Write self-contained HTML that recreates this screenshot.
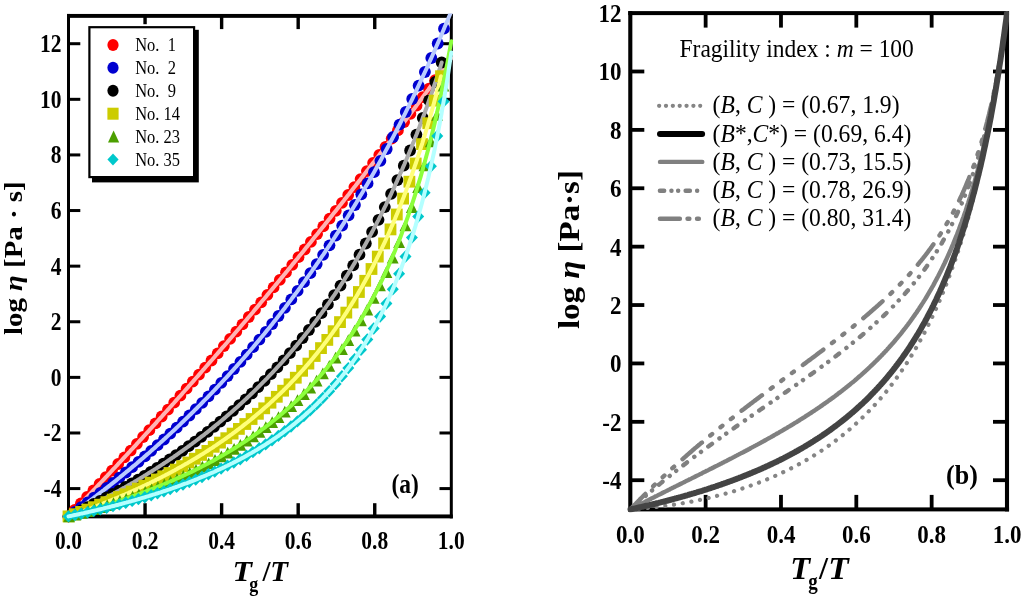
<!DOCTYPE html>
<html lang="en"><head><meta charset="utf-8"><title>Viscosity plots</title>
<style>html,body{margin:0;padding:0;background:#fff}body{width:1024px;height:598px;overflow:hidden}svg{display:block}</style>
</head><body>
<svg width="1024" height="598" viewBox="0 0 1024 598" font-family='"Liberation Serif", "DejaVu Serif", serif'>
<rect width="1024" height="598" fill="#fff"/>
<defs><clipPath id="ca"><rect x="60.5" y="13.4" width="392.8" height="511.0"/></clipPath><clipPath id="cb"><rect x="627.3" y="11.6" width="381.70000000000005" height="500.79999999999995"/></clipPath></defs>
<g fill="#000">
<rect x="67.00" y="13.95" width="385.80" height="3.9"/>
<rect x="67.00" y="514.45" width="385.80" height="3.9"/>
<rect x="67.00" y="13.95" width="3.0" height="504.40"/>
<rect x="449.80" y="13.95" width="3.0" height="504.40"/>
<rect x="143.36" y="15.9" width="3.4" height="13.2"/><rect x="143.36" y="503.20" width="3.4" height="13.2"/>
<rect x="219.92" y="15.9" width="3.4" height="13.2"/><rect x="219.92" y="503.20" width="3.4" height="13.2"/>
<rect x="296.48" y="15.9" width="3.4" height="13.2"/><rect x="296.48" y="503.20" width="3.4" height="13.2"/>
<rect x="373.04" y="15.9" width="3.4" height="13.2"/><rect x="373.04" y="503.20" width="3.4" height="13.2"/>
<rect x="68.5" y="487.09" width="11.8" height="3.0"/><rect x="439.50" y="487.09" width="11.8" height="3.0"/>
<rect x="68.5" y="431.48" width="11.8" height="3.0"/><rect x="439.50" y="431.48" width="11.8" height="3.0"/>
<rect x="68.5" y="375.87" width="11.8" height="3.0"/><rect x="439.50" y="375.87" width="11.8" height="3.0"/>
<rect x="68.5" y="320.26" width="11.8" height="3.0"/><rect x="439.50" y="320.26" width="11.8" height="3.0"/>
<rect x="68.5" y="264.65" width="11.8" height="3.0"/><rect x="439.50" y="264.65" width="11.8" height="3.0"/>
<rect x="68.5" y="209.04" width="11.8" height="3.0"/><rect x="439.50" y="209.04" width="11.8" height="3.0"/>
<rect x="68.5" y="153.43" width="11.8" height="3.0"/><rect x="439.50" y="153.43" width="11.8" height="3.0"/>
<rect x="68.5" y="97.82" width="11.8" height="3.0"/><rect x="439.50" y="97.82" width="11.8" height="3.0"/>
<rect x="68.5" y="42.21" width="11.8" height="3.0"/><rect x="439.50" y="42.21" width="11.8" height="3.0"/>
</g>
<g clip-path="url(#ca)">
<g fill="#ff0000">
<circle cx="68.5" cy="516.4" r="5.9"/>
<circle cx="74.7" cy="509.9" r="5.9"/>
<circle cx="80.9" cy="503.5" r="5.9"/>
<circle cx="87.1" cy="497.0" r="5.9"/>
<circle cx="93.4" cy="490.4" r="5.9"/>
<circle cx="99.6" cy="483.8" r="5.9"/>
<circle cx="105.8" cy="477.2" r="5.9"/>
<circle cx="112.0" cy="470.6" r="5.9"/>
<circle cx="118.2" cy="464.0" r="5.9"/>
<circle cx="124.4" cy="457.3" r="5.9"/>
<circle cx="130.7" cy="450.6" r="5.9"/>
<circle cx="136.9" cy="443.8" r="5.9"/>
<circle cx="143.1" cy="437.0" r="5.9"/>
<circle cx="149.3" cy="430.2" r="5.9"/>
<circle cx="155.5" cy="423.4" r="5.9"/>
<circle cx="161.7" cy="416.5" r="5.9"/>
<circle cx="168.0" cy="409.6" r="5.9"/>
<circle cx="174.2" cy="402.7" r="5.9"/>
<circle cx="180.4" cy="395.7" r="5.9"/>
<circle cx="186.6" cy="388.7" r="5.9"/>
<circle cx="192.8" cy="381.7" r="5.9"/>
<circle cx="199.0" cy="374.7" r="5.9"/>
<circle cx="205.2" cy="367.6" r="5.9"/>
<circle cx="211.5" cy="360.5" r="5.9"/>
<circle cx="217.7" cy="353.3" r="5.9"/>
<circle cx="223.9" cy="346.1" r="5.9"/>
<circle cx="230.1" cy="338.9" r="5.9"/>
<circle cx="236.3" cy="331.6" r="5.9"/>
<circle cx="242.5" cy="324.3" r="5.9"/>
<circle cx="248.8" cy="317.0" r="5.9"/>
<circle cx="255.0" cy="309.7" r="5.9"/>
<circle cx="261.2" cy="302.3" r="5.9"/>
<circle cx="267.4" cy="294.8" r="5.9"/>
<circle cx="273.6" cy="287.4" r="5.9"/>
<circle cx="279.8" cy="279.9" r="5.9"/>
<circle cx="286.0" cy="272.3" r="5.9"/>
<circle cx="292.3" cy="264.8" r="5.9"/>
<circle cx="298.5" cy="257.2" r="5.9"/>
<circle cx="304.7" cy="249.5" r="5.9"/>
<circle cx="310.9" cy="241.9" r="5.9"/>
<circle cx="317.1" cy="234.1" r="5.9"/>
<circle cx="323.3" cy="226.4" r="5.9"/>
<circle cx="329.6" cy="218.6" r="5.9"/>
<circle cx="335.8" cy="210.8" r="5.9"/>
<circle cx="342.0" cy="202.9" r="5.9"/>
<circle cx="348.2" cy="195.0" r="5.9"/>
<circle cx="354.4" cy="187.1" r="5.9"/>
<circle cx="360.6" cy="179.1" r="5.9"/>
<circle cx="366.9" cy="171.1" r="5.9"/>
<circle cx="373.1" cy="163.0" r="5.9"/>
<circle cx="379.3" cy="154.9" r="5.9"/>
<circle cx="385.5" cy="146.8" r="5.9"/>
<circle cx="391.7" cy="138.6" r="5.9"/>
<circle cx="397.9" cy="130.4" r="5.9"/>
<circle cx="404.1" cy="122.1" r="5.9"/>
<circle cx="410.4" cy="113.8" r="5.9"/>
<circle cx="416.6" cy="105.5" r="5.9"/>
<circle cx="422.8" cy="97.1" r="5.9"/>
<circle cx="429.0" cy="88.7" r="5.9"/>
<circle cx="435.2" cy="80.2" r="5.9"/>
</g>
<path d="M68.5,516.4 L69.8,515.1 L71.1,513.7 L72.3,512.4 L73.6,511.1 L74.9,509.8 L76.2,508.4 L77.5,507.1 L78.7,505.8 L80.0,504.4 L81.3,503.1 L82.6,501.7 L83.9,500.4 L85.1,499.1 L86.4,497.7 L87.7,496.4 L89.0,495.0 L90.3,493.7 L91.5,492.3 L92.8,491.0 L94.1,489.6 L95.4,488.3 L96.7,486.9 L97.9,485.6 L99.2,484.2 L100.5,482.9 L101.8,481.5 L103.1,480.1 L104.3,478.8 L105.6,477.4 L106.9,476.1 L108.2,474.7 L109.5,473.3 L110.7,472.0 L112.0,470.6 L113.3,469.2 L114.6,467.9 L115.9,466.5 L117.2,465.1 L118.4,463.7 L119.7,462.4 L121.0,461.0 L122.3,459.6 L123.6,458.2 L124.8,456.9 L126.1,455.5 L127.4,454.1 L128.7,452.7 L130.0,451.3 L131.2,449.9 L132.5,448.6 L133.8,447.2 L135.1,445.8 L136.4,444.4 L137.6,443.0 L138.9,441.6 L140.2,440.2 L141.5,438.8 L142.8,437.4 L144.0,436.0 L145.3,434.6 L146.6,433.2 L147.9,431.8 L149.2,430.4 L150.4,429.0 L151.7,427.6 L153.0,426.2 L154.3,424.8 L155.6,423.4 L156.8,421.9 L158.1,420.5 L159.4,419.1 L160.7,417.7 L162.0,416.3 L163.2,414.9 L164.5,413.4 L165.8,412.0 L167.1,410.6 L168.4,409.2 L169.6,407.8 L170.9,406.3 L172.2,404.9 L173.5,403.5 L174.8,402.0 L176.0,400.6 L177.3,399.2 L178.6,397.7 L179.9,396.3 L181.2,394.9 L182.4,393.4 L183.7,392.0 L185.0,390.5 L186.3,389.1 L187.6,387.7 L188.8,386.2 L190.1,384.8 L191.4,383.3 L192.7,381.9 L194.0,380.4 L195.2,379.0 L196.5,377.5 L197.8,376.1 L199.1,374.6 L200.4,373.1 L201.6,371.7 L202.9,370.2 L204.2,368.8 L205.5,367.3 L206.8,365.8 L208.0,364.4 L209.3,362.9 L210.6,361.4 L211.9,360.0 L213.2,358.5 L214.5,357.0 L215.7,355.5 L217.0,354.1 L218.3,352.6 L219.6,351.1 L220.9,349.6 L222.1,348.1 L223.4,346.7 L224.7,345.2 L226.0,343.7 L227.3,342.2 L228.5,340.7 L229.8,339.2 L231.1,337.7 L232.4,336.2 L233.7,334.7 L234.9,333.3 L236.2,331.8 L237.5,330.3 L238.8,328.8 L240.1,327.3 L241.3,325.8 L242.6,324.2 L243.9,322.7 L245.2,321.2 L246.5,319.7 L247.7,318.2 L249.0,316.7 L250.3,315.2 L251.6,313.7 L252.9,312.2 L254.1,310.6 L255.4,309.1 L256.7,307.6 L258.0,306.1 L259.3,304.6 L260.5,303.0 L261.8,301.5 L263.1,300.0 L264.4,298.5 L265.7,296.9 L266.9,295.4 L268.2,293.9 L269.5,292.3 L270.8,290.8 L272.1,289.2 L273.3,287.7 L274.6,286.2 L275.9,284.6 L277.2,283.1 L278.5,281.5 L279.7,280.0 L281.0,278.4 L282.3,276.9 L283.6,275.3 L284.9,273.8 L286.1,272.2 L287.4,270.7 L288.7,269.1 L290.0,267.6 L291.3,266.0 L292.5,264.4 L293.8,262.9 L295.1,261.3 L296.4,259.7 L297.7,258.2 L298.9,256.6 L300.2,255.0 L301.5,253.5 L302.8,251.9 L304.1,250.3 L305.3,248.7 L306.6,247.1 L307.9,245.6 L309.2,244.0 L310.5,242.4 L311.8,240.8 L313.0,239.2 L314.3,237.6 L315.6,236.0 L316.9,234.5 L318.2,232.9 L319.4,231.3 L320.7,229.7 L322.0,228.1 L323.3,226.5 L324.6,224.9 L325.8,223.3 L327.1,221.7 L328.4,220.1 L329.7,218.5 L331.0,216.8 L332.2,215.2 L333.5,213.6 L334.8,212.0 L336.1,210.4 L337.4,208.8 L338.6,207.2 L339.9,205.5 L341.2,203.9 L342.5,202.3 L343.8,200.7 L345.0,199.0 L346.3,197.4 L347.6,195.8 L348.9,194.2 L350.2,192.5 L351.4,190.9 L352.7,189.2 L354.0,187.6 L355.3,186.0 L356.6,184.3 L357.8,182.7 L359.1,181.0 L360.4,179.4 L361.7,177.7 L363.0,176.1 L364.2,174.4 L365.5,172.8 L366.8,171.1 L368.1,169.5 L369.4,167.8 L370.6,166.2 L371.9,164.5 L373.2,162.8 L374.5,161.2 L375.8,159.5 L377.0,157.8 L378.3,156.2 L379.6,154.5 L380.9,152.8 L382.2,151.2 L383.4,149.5 L384.7,147.8 L386.0,146.1 L387.3,144.4 L388.6,142.8 L389.8,141.1 L391.1,139.4 L392.4,137.7 L393.7,136.0 L395.0,134.3 L396.2,132.6 L397.5,130.9 L398.8,129.2 L400.1,127.5 L401.4,125.8 L402.6,124.1 L403.9,122.4 L405.2,120.7 L406.5,119.0 L407.8,117.3 L409.1,115.6 L410.3,113.9 L411.6,112.2 L412.9,110.4 L414.2,108.7 L415.5,107.0 L416.7,105.3 L418.0,103.6 L419.3,101.8 L420.6,100.1 L421.9,98.4 L423.1,96.6 L424.4,94.9 L425.7,93.2 L427.0,91.4 L428.3,89.7 L429.5,88.0 L430.8,86.2 L432.1,84.5 L433.4,82.7 L434.7,81.0 L435.9,79.2 L437.2,77.5 L438.5,75.7 L439.8,74.0 L441.1,72.2 L442.3,70.5 L443.6,68.7 L444.9,67.0 L446.2,65.2 L447.5,63.4 L448.7,61.7 L450.0,59.9 L451.3,58.1" fill="none" stroke="#ffb4b4" stroke-width="4" stroke-linecap="round" stroke-linejoin="round"/>
<g fill="#0000d0">
<circle cx="68.5" cy="516.4" r="5.9"/>
<circle cx="74.9" cy="511.8" r="5.9"/>
<circle cx="81.2" cy="507.2" r="5.9"/>
<circle cx="87.6" cy="502.5" r="5.9"/>
<circle cx="94.0" cy="497.7" r="5.9"/>
<circle cx="100.3" cy="492.8" r="5.9"/>
<circle cx="106.7" cy="487.8" r="5.9"/>
<circle cx="113.1" cy="482.8" r="5.9"/>
<circle cx="119.4" cy="477.7" r="5.9"/>
<circle cx="125.8" cy="472.5" r="5.9"/>
<circle cx="132.1" cy="467.2" r="5.9"/>
<circle cx="138.5" cy="461.9" r="5.9"/>
<circle cx="144.9" cy="456.4" r="5.9"/>
<circle cx="151.2" cy="450.8" r="5.9"/>
<circle cx="157.6" cy="445.2" r="5.9"/>
<circle cx="164.0" cy="439.5" r="5.9"/>
<circle cx="170.3" cy="433.6" r="5.9"/>
<circle cx="176.7" cy="427.7" r="5.9"/>
<circle cx="183.1" cy="421.6" r="5.9"/>
<circle cx="189.4" cy="415.5" r="5.9"/>
<circle cx="195.8" cy="409.2" r="5.9"/>
<circle cx="202.2" cy="402.8" r="5.9"/>
<circle cx="208.5" cy="396.3" r="5.9"/>
<circle cx="214.9" cy="389.7" r="5.9"/>
<circle cx="221.3" cy="382.9" r="5.9"/>
<circle cx="227.6" cy="376.1" r="5.9"/>
<circle cx="234.0" cy="369.0" r="5.9"/>
<circle cx="240.4" cy="361.9" r="5.9"/>
<circle cx="246.7" cy="354.6" r="5.9"/>
<circle cx="253.1" cy="347.2" r="5.9"/>
<circle cx="259.4" cy="339.6" r="5.9"/>
<circle cx="265.8" cy="331.9" r="5.9"/>
<circle cx="272.2" cy="324.0" r="5.9"/>
<circle cx="278.5" cy="316.0" r="5.9"/>
<circle cx="284.9" cy="307.8" r="5.9"/>
<circle cx="291.3" cy="299.4" r="5.9"/>
<circle cx="297.6" cy="290.9" r="5.9"/>
<circle cx="304.0" cy="282.2" r="5.9"/>
<circle cx="310.4" cy="273.2" r="5.9"/>
<circle cx="316.7" cy="264.1" r="5.9"/>
<circle cx="323.1" cy="254.8" r="5.9"/>
<circle cx="329.5" cy="245.3" r="5.9"/>
<circle cx="335.8" cy="235.6" r="5.9"/>
<circle cx="342.2" cy="225.6" r="5.9"/>
<circle cx="348.6" cy="215.4" r="5.9"/>
<circle cx="354.9" cy="205.0" r="5.9"/>
<circle cx="361.3" cy="194.3" r="5.9"/>
<circle cx="367.6" cy="183.4" r="5.9"/>
<circle cx="374.0" cy="172.2" r="5.9"/>
<circle cx="380.4" cy="160.8" r="5.9"/>
<circle cx="386.7" cy="149.0" r="5.9"/>
<circle cx="393.1" cy="137.0" r="5.9"/>
<circle cx="399.5" cy="124.7" r="5.9"/>
<circle cx="405.8" cy="112.0" r="5.9"/>
<circle cx="412.2" cy="99.0" r="5.9"/>
<circle cx="418.6" cy="85.7" r="5.9"/>
<circle cx="424.9" cy="72.0" r="5.9"/>
<circle cx="431.3" cy="58.0" r="5.9"/>
<circle cx="437.7" cy="43.5" r="5.9"/>
<circle cx="444.0" cy="28.7" r="5.9"/>
</g>
<path d="M68.5,516.4 L69.8,515.5 L71.1,514.6 L72.3,513.6 L73.6,512.7 L74.9,511.8 L76.2,510.9 L77.5,509.9 L78.7,509.0 L80.0,508.1 L81.3,507.1 L82.6,506.2 L83.9,505.2 L85.1,504.3 L86.4,503.3 L87.7,502.4 L89.0,501.4 L90.3,500.5 L91.5,499.5 L92.8,498.5 L94.1,497.5 L95.4,496.6 L96.7,495.6 L97.9,494.6 L99.2,493.6 L100.5,492.6 L101.8,491.7 L103.1,490.7 L104.3,489.7 L105.6,488.7 L106.9,487.7 L108.2,486.7 L109.5,485.7 L110.7,484.6 L112.0,483.6 L113.3,482.6 L114.6,481.6 L115.9,480.6 L117.2,479.5 L118.4,478.5 L119.7,477.5 L121.0,476.4 L122.3,475.4 L123.6,474.3 L124.8,473.3 L126.1,472.2 L127.4,471.2 L128.7,470.1 L130.0,469.1 L131.2,468.0 L132.5,466.9 L133.8,465.8 L135.1,464.8 L136.4,463.7 L137.6,462.6 L138.9,461.5 L140.2,460.4 L141.5,459.3 L142.8,458.2 L144.0,457.1 L145.3,456.0 L146.6,454.9 L147.9,453.8 L149.2,452.7 L150.4,451.6 L151.7,450.4 L153.0,449.3 L154.3,448.2 L155.6,447.0 L156.8,445.9 L158.1,444.7 L159.4,443.6 L160.7,442.4 L162.0,441.3 L163.2,440.1 L164.5,439.0 L165.8,437.8 L167.1,436.6 L168.4,435.4 L169.6,434.3 L170.9,433.1 L172.2,431.9 L173.5,430.7 L174.8,429.5 L176.0,428.3 L177.3,427.1 L178.6,425.9 L179.9,424.7 L181.2,423.4 L182.4,422.2 L183.7,421.0 L185.0,419.7 L186.3,418.5 L187.6,417.3 L188.8,416.0 L190.1,414.8 L191.4,413.5 L192.7,412.3 L194.0,411.0 L195.2,409.7 L196.5,408.5 L197.8,407.2 L199.1,405.9 L200.4,404.6 L201.6,403.3 L202.9,402.0 L204.2,400.7 L205.5,399.4 L206.8,398.1 L208.0,396.8 L209.3,395.5 L210.6,394.1 L211.9,392.8 L213.2,391.5 L214.5,390.1 L215.7,388.8 L217.0,387.4 L218.3,386.1 L219.6,384.7 L220.9,383.4 L222.1,382.0 L223.4,380.6 L224.7,379.2 L226.0,377.8 L227.3,376.5 L228.5,375.1 L229.8,373.7 L231.1,372.2 L232.4,370.8 L233.7,369.4 L234.9,368.0 L236.2,366.6 L237.5,365.1 L238.8,363.7 L240.1,362.2 L241.3,360.8 L242.6,359.3 L243.9,357.9 L245.2,356.4 L246.5,354.9 L247.7,353.4 L249.0,352.0 L250.3,350.5 L251.6,349.0 L252.9,347.5 L254.1,346.0 L255.4,344.4 L256.7,342.9 L258.0,341.4 L259.3,339.9 L260.5,338.3 L261.8,336.8 L263.1,335.2 L264.4,333.7 L265.7,332.1 L266.9,330.5 L268.2,329.0 L269.5,327.4 L270.8,325.8 L272.1,324.2 L273.3,322.6 L274.6,321.0 L275.9,319.4 L277.2,317.7 L278.5,316.1 L279.7,314.5 L281.0,312.8 L282.3,311.2 L283.6,309.5 L284.9,307.9 L286.1,306.2 L287.4,304.5 L288.7,302.8 L290.0,301.1 L291.3,299.4 L292.5,297.7 L293.8,296.0 L295.1,294.3 L296.4,292.6 L297.7,290.8 L298.9,289.1 L300.2,287.4 L301.5,285.6 L302.8,283.8 L304.1,282.1 L305.3,280.3 L306.6,278.5 L307.9,276.7 L309.2,274.9 L310.5,273.1 L311.8,271.3 L313.0,269.4 L314.3,267.6 L315.6,265.8 L316.9,263.9 L318.2,262.1 L319.4,260.2 L320.7,258.3 L322.0,256.4 L323.3,254.6 L324.6,252.7 L325.8,250.7 L327.1,248.8 L328.4,246.9 L329.7,245.0 L331.0,243.0 L332.2,241.1 L333.5,239.1 L334.8,237.2 L336.1,235.2 L337.4,233.2 L338.6,231.2 L339.9,229.2 L341.2,227.2 L342.5,225.2 L343.8,223.1 L345.0,221.1 L346.3,219.0 L347.6,217.0 L348.9,214.9 L350.2,212.8 L351.4,210.7 L352.7,208.6 L354.0,206.5 L355.3,204.4 L356.6,202.3 L357.8,200.1 L359.1,198.0 L360.4,195.8 L361.7,193.7 L363.0,191.5 L364.2,189.3 L365.5,187.1 L366.8,184.9 L368.1,182.7 L369.4,180.4 L370.6,178.2 L371.9,175.9 L373.2,173.7 L374.5,171.4 L375.8,169.1 L377.0,166.8 L378.3,164.5 L379.6,162.2 L380.9,159.9 L382.2,157.5 L383.4,155.2 L384.7,152.8 L386.0,150.4 L387.3,148.0 L388.6,145.6 L389.8,143.2 L391.1,140.8 L392.4,138.3 L393.7,135.9 L395.0,133.4 L396.2,131.0 L397.5,128.5 L398.8,126.0 L400.1,123.5 L401.4,120.9 L402.6,118.4 L403.9,115.8 L405.2,113.3 L406.5,110.7 L407.8,108.1 L409.1,105.5 L410.3,102.9 L411.6,100.3 L412.9,97.6 L414.2,94.9 L415.5,92.3 L416.7,89.6 L418.0,86.9 L419.3,84.2 L420.6,81.4 L421.9,78.7 L423.1,75.9 L424.4,73.2 L425.7,70.4 L427.0,67.6 L428.3,64.7 L429.5,61.9 L430.8,59.1 L432.1,56.2 L433.4,53.3 L434.7,50.4 L435.9,47.5 L437.2,44.6 L438.5,41.6 L439.8,38.7 L441.1,35.7 L442.3,32.7 L443.6,29.7 L444.9,26.6 L446.2,23.6 L447.5,20.5 L448.7,17.5 L450.0,14.4 L451.3,11.2" fill="none" stroke="#b9cbff" stroke-width="4" stroke-linecap="round" stroke-linejoin="round"/>
<g fill="#000000">
<circle cx="68.5" cy="516.4" r="5.9"/>
<circle cx="74.8" cy="513.4" r="5.9"/>
<circle cx="81.2" cy="510.4" r="5.9"/>
<circle cx="87.5" cy="507.2" r="5.9"/>
<circle cx="93.8" cy="504.0" r="5.9"/>
<circle cx="100.1" cy="500.8" r="5.9"/>
<circle cx="106.5" cy="497.4" r="5.9"/>
<circle cx="112.8" cy="494.0" r="5.9"/>
<circle cx="119.1" cy="490.6" r="5.9"/>
<circle cx="125.4" cy="487.0" r="5.9"/>
<circle cx="131.8" cy="483.3" r="5.9"/>
<circle cx="138.1" cy="479.6" r="5.9"/>
<circle cx="144.4" cy="475.8" r="5.9"/>
<circle cx="150.7" cy="471.9" r="5.9"/>
<circle cx="157.1" cy="467.9" r="5.9"/>
<circle cx="163.4" cy="463.7" r="5.9"/>
<circle cx="169.7" cy="459.5" r="5.9"/>
<circle cx="176.0" cy="455.2" r="5.9"/>
<circle cx="182.4" cy="450.8" r="5.9"/>
<circle cx="188.7" cy="446.2" r="5.9"/>
<circle cx="195.0" cy="441.6" r="5.9"/>
<circle cx="201.3" cy="436.8" r="5.9"/>
<circle cx="207.7" cy="431.9" r="5.9"/>
<circle cx="214.0" cy="426.8" r="5.9"/>
<circle cx="220.3" cy="421.6" r="5.9"/>
<circle cx="226.6" cy="416.3" r="5.9"/>
<circle cx="233.0" cy="410.8" r="5.9"/>
<circle cx="239.3" cy="405.1" r="5.9"/>
<circle cx="245.6" cy="399.3" r="5.9"/>
<circle cx="252.0" cy="393.3" r="5.9"/>
<circle cx="258.3" cy="387.1" r="5.9"/>
<circle cx="264.6" cy="380.8" r="5.9"/>
<circle cx="270.9" cy="374.2" r="5.9"/>
<circle cx="277.3" cy="367.4" r="5.9"/>
<circle cx="283.6" cy="360.4" r="5.9"/>
<circle cx="289.9" cy="353.2" r="5.9"/>
<circle cx="296.2" cy="345.7" r="5.9"/>
<circle cx="302.6" cy="338.0" r="5.9"/>
<circle cx="308.9" cy="330.0" r="5.9"/>
<circle cx="315.2" cy="321.8" r="5.9"/>
<circle cx="321.5" cy="313.2" r="5.9"/>
<circle cx="327.9" cy="304.4" r="5.9"/>
<circle cx="334.2" cy="295.2" r="5.9"/>
<circle cx="340.5" cy="285.6" r="5.9"/>
<circle cx="346.8" cy="275.7" r="5.9"/>
<circle cx="353.2" cy="265.4" r="5.9"/>
<circle cx="359.5" cy="254.7" r="5.9"/>
<circle cx="365.8" cy="243.5" r="5.9"/>
<circle cx="372.1" cy="231.9" r="5.9"/>
<circle cx="378.5" cy="219.8" r="5.9"/>
<circle cx="384.8" cy="207.1" r="5.9"/>
<circle cx="391.1" cy="193.9" r="5.9"/>
<circle cx="397.4" cy="180.1" r="5.9"/>
<circle cx="403.8" cy="165.7" r="5.9"/>
<circle cx="410.1" cy="150.5" r="5.9"/>
<circle cx="416.4" cy="134.6" r="5.9"/>
<circle cx="422.8" cy="118.0" r="5.9"/>
<circle cx="429.1" cy="100.4" r="5.9"/>
<circle cx="435.4" cy="82.0" r="5.9"/>
<circle cx="441.7" cy="62.5" r="5.9"/>
</g>
<path d="M68.5,516.4 L69.7,515.8 L71.0,515.2 L72.2,514.6 L73.5,514.0 L74.7,513.4 L76.0,512.8 L77.2,512.2 L78.5,511.6 L79.7,511.0 L81.0,510.4 L82.2,509.8 L83.5,509.2 L84.7,508.6 L86.0,508.0 L87.2,507.4 L88.5,506.7 L89.7,506.1 L91.0,505.5 L92.2,504.8 L93.5,504.2 L94.7,503.6 L96.0,502.9 L97.2,502.3 L98.5,501.6 L99.7,501.0 L101.0,500.3 L102.2,499.7 L103.5,499.0 L104.7,498.4 L105.9,497.7 L107.2,497.1 L108.4,496.4 L109.7,495.7 L110.9,495.0 L112.2,494.4 L113.4,493.7 L114.7,493.0 L115.9,492.3 L117.2,491.6 L118.4,490.9 L119.7,490.2 L120.9,489.5 L122.2,488.8 L123.4,488.1 L124.7,487.4 L125.9,486.7 L127.2,486.0 L128.4,485.3 L129.7,484.6 L130.9,483.8 L132.2,483.1 L133.4,482.4 L134.7,481.6 L135.9,480.9 L137.2,480.2 L138.4,479.4 L139.7,478.7 L140.9,477.9 L142.1,477.2 L143.4,476.4 L144.6,475.6 L145.9,474.9 L147.1,474.1 L148.4,473.3 L149.6,472.6 L150.9,471.8 L152.1,471.0 L153.4,470.2 L154.6,469.4 L155.9,468.6 L157.1,467.8 L158.4,467.0 L159.6,466.2 L160.9,465.4 L162.1,464.6 L163.4,463.8 L164.6,462.9 L165.9,462.1 L167.1,461.3 L168.4,460.4 L169.6,459.6 L170.9,458.8 L172.1,457.9 L173.4,457.1 L174.6,456.2 L175.9,455.3 L177.1,454.5 L178.3,453.6 L179.6,452.7 L180.8,451.9 L182.1,451.0 L183.3,450.1 L184.6,449.2 L185.8,448.3 L187.1,447.4 L188.3,446.5 L189.6,445.6 L190.8,444.7 L192.1,443.8 L193.3,442.8 L194.6,441.9 L195.8,441.0 L197.1,440.0 L198.3,439.1 L199.6,438.1 L200.8,437.2 L202.1,436.2 L203.3,435.3 L204.6,434.3 L205.8,433.3 L207.1,432.3 L208.3,431.4 L209.6,430.4 L210.8,429.4 L212.1,428.4 L213.3,427.4 L214.5,426.4 L215.8,425.3 L217.0,424.3 L218.3,423.3 L219.5,422.3 L220.8,421.2 L222.0,420.2 L223.3,419.1 L224.5,418.1 L225.8,417.0 L227.0,415.9 L228.3,414.9 L229.5,413.8 L230.8,412.7 L232.0,411.6 L233.3,410.5 L234.5,409.4 L235.8,408.3 L237.0,407.2 L238.3,406.1 L239.5,404.9 L240.8,403.8 L242.0,402.6 L243.3,401.5 L244.5,400.3 L245.8,399.2 L247.0,398.0 L248.2,396.8 L249.5,395.7 L250.7,394.5 L252.0,393.3 L253.2,392.1 L254.5,390.8 L255.7,389.6 L257.0,388.4 L258.2,387.2 L259.5,385.9 L260.7,384.7 L262.0,383.4 L263.2,382.2 L264.5,380.9 L265.7,379.6 L267.0,378.3 L268.2,377.0 L269.5,375.7 L270.7,374.4 L272.0,373.1 L273.2,371.8 L274.5,370.4 L275.7,369.1 L277.0,367.7 L278.2,366.4 L279.5,365.0 L280.7,363.6 L282.0,362.3 L283.2,360.9 L284.4,359.5 L285.7,358.0 L286.9,356.6 L288.2,355.2 L289.4,353.7 L290.7,352.3 L291.9,350.8 L293.2,349.4 L294.4,347.9 L295.7,346.4 L296.9,344.9 L298.2,343.4 L299.4,341.9 L300.7,340.4 L301.9,338.8 L303.2,337.3 L304.4,335.7 L305.7,334.1 L306.9,332.6 L308.2,331.0 L309.4,329.4 L310.7,327.8 L311.9,326.1 L313.2,324.5 L314.4,322.8 L315.7,321.2 L316.9,319.5 L318.2,317.8 L319.4,316.1 L320.6,314.4 L321.9,312.7 L323.1,311.0 L324.4,309.3 L325.6,307.5 L326.9,305.7 L328.1,304.0 L329.4,302.2 L330.6,300.4 L331.9,298.5 L333.1,296.7 L334.4,294.9 L335.6,293.0 L336.9,291.1 L338.1,289.3 L339.4,287.4 L340.6,285.4 L341.9,283.5 L343.1,281.6 L344.4,279.6 L345.6,277.6 L346.9,275.7 L348.1,273.7 L349.4,271.6 L350.6,269.6 L351.9,267.6 L353.1,265.5 L354.4,263.4 L355.6,261.3 L356.8,259.2 L358.1,257.1 L359.3,254.9 L360.6,252.8 L361.8,250.6 L363.1,248.4 L364.3,246.2 L365.6,243.9 L366.8,241.7 L368.1,239.4 L369.3,237.1 L370.6,234.8 L371.8,232.5 L373.1,230.1 L374.3,227.8 L375.6,225.4 L376.8,223.0 L378.1,220.6 L379.3,218.1 L380.6,215.7 L381.8,213.2 L383.1,210.7 L384.3,208.1 L385.6,205.6 L386.8,203.0 L388.1,200.4 L389.3,197.8 L390.6,195.1 L391.8,192.5 L393.0,189.8 L394.3,187.1 L395.5,184.3 L396.8,181.6 L398.0,178.8 L399.3,176.0 L400.5,173.1 L401.8,170.3 L403.0,167.4 L404.3,164.5 L405.5,161.5 L406.8,158.6 L408.0,155.6 L409.3,152.5 L410.5,149.5 L411.8,146.4 L413.0,143.3 L414.3,140.2 L415.5,137.0 L416.8,133.8 L418.0,130.5 L419.3,127.3 L420.5,124.0 L421.8,120.6 L423.0,117.3 L424.3,113.9 L425.5,110.5 L426.8,107.0 L428.0,103.5 L429.2,100.0 L430.5,96.4 L431.7,92.8 L433.0,89.1 L434.2,85.5 L435.5,81.7 L436.7,78.0 L438.0,74.2 L439.2,70.3 L440.5,66.5 L441.7,62.5" fill="none" stroke="#ababab" stroke-width="4" stroke-linecap="round" stroke-linejoin="round"/>
<g fill="#cccc00">
<rect x="62.6" y="510.5" width="11.8" height="11.8"/>
<rect x="68.9" y="508.3" width="11.8" height="11.8"/>
<rect x="75.2" y="506.0" width="11.8" height="11.8"/>
<rect x="81.5" y="503.7" width="11.8" height="11.8"/>
<rect x="87.9" y="501.3" width="11.8" height="11.8"/>
<rect x="94.2" y="498.8" width="11.8" height="11.8"/>
<rect x="100.5" y="496.3" width="11.8" height="11.8"/>
<rect x="106.8" y="493.7" width="11.8" height="11.8"/>
<rect x="113.1" y="491.1" width="11.8" height="11.8"/>
<rect x="119.4" y="488.4" width="11.8" height="11.8"/>
<rect x="125.7" y="485.6" width="11.8" height="11.8"/>
<rect x="132.0" y="482.7" width="11.8" height="11.8"/>
<rect x="138.4" y="479.8" width="11.8" height="11.8"/>
<rect x="144.7" y="476.7" width="11.8" height="11.8"/>
<rect x="151.0" y="473.6" width="11.8" height="11.8"/>
<rect x="157.3" y="470.4" width="11.8" height="11.8"/>
<rect x="163.6" y="467.1" width="11.8" height="11.8"/>
<rect x="169.9" y="463.7" width="11.8" height="11.8"/>
<rect x="176.2" y="460.2" width="11.8" height="11.8"/>
<rect x="182.5" y="456.6" width="11.8" height="11.8"/>
<rect x="188.9" y="452.8" width="11.8" height="11.8"/>
<rect x="195.2" y="449.0" width="11.8" height="11.8"/>
<rect x="201.5" y="445.0" width="11.8" height="11.8"/>
<rect x="207.8" y="440.9" width="11.8" height="11.8"/>
<rect x="214.1" y="436.7" width="11.8" height="11.8"/>
<rect x="220.4" y="432.3" width="11.8" height="11.8"/>
<rect x="226.7" y="427.7" width="11.8" height="11.8"/>
<rect x="233.0" y="423.0" width="11.8" height="11.8"/>
<rect x="239.4" y="418.1" width="11.8" height="11.8"/>
<rect x="245.7" y="413.1" width="11.8" height="11.8"/>
<rect x="252.0" y="407.9" width="11.8" height="11.8"/>
<rect x="258.3" y="402.4" width="11.8" height="11.8"/>
<rect x="264.6" y="396.8" width="11.8" height="11.8"/>
<rect x="270.9" y="390.9" width="11.8" height="11.8"/>
<rect x="277.2" y="384.8" width="11.8" height="11.8"/>
<rect x="283.6" y="378.4" width="11.8" height="11.8"/>
<rect x="289.9" y="371.8" width="11.8" height="11.8"/>
<rect x="296.2" y="364.9" width="11.8" height="11.8"/>
<rect x="302.5" y="357.7" width="11.8" height="11.8"/>
<rect x="308.8" y="350.1" width="11.8" height="11.8"/>
<rect x="315.1" y="342.2" width="11.8" height="11.8"/>
<rect x="321.4" y="334.0" width="11.8" height="11.8"/>
<rect x="327.7" y="325.3" width="11.8" height="11.8"/>
<rect x="334.1" y="316.2" width="11.8" height="11.8"/>
<rect x="340.4" y="306.7" width="11.8" height="11.8"/>
<rect x="346.7" y="296.6" width="11.8" height="11.8"/>
<rect x="353.0" y="286.1" width="11.8" height="11.8"/>
<rect x="359.3" y="274.9" width="11.8" height="11.8"/>
<rect x="365.6" y="263.1" width="11.8" height="11.8"/>
<rect x="371.9" y="250.7" width="11.8" height="11.8"/>
<rect x="378.2" y="237.5" width="11.8" height="11.8"/>
<rect x="384.6" y="223.5" width="11.8" height="11.8"/>
<rect x="390.9" y="208.6" width="11.8" height="11.8"/>
<rect x="397.2" y="192.7" width="11.8" height="11.8"/>
<rect x="403.5" y="175.8" width="11.8" height="11.8"/>
<rect x="409.8" y="157.6" width="11.8" height="11.8"/>
<rect x="416.1" y="138.2" width="11.8" height="11.8"/>
<rect x="422.4" y="117.3" width="11.8" height="11.8"/>
<rect x="428.8" y="94.7" width="11.8" height="11.8"/>
<rect x="435.1" y="70.3" width="11.8" height="11.8"/>
</g>
<path d="M68.5,516.4 L69.7,516.0 L71.0,515.5 L72.2,515.1 L73.5,514.7 L74.7,514.2 L76.0,513.8 L77.2,513.3 L78.5,512.9 L79.7,512.4 L81.0,512.0 L82.2,511.5 L83.4,511.1 L84.7,510.6 L85.9,510.1 L87.2,509.7 L88.4,509.2 L89.7,508.7 L90.9,508.3 L92.2,507.8 L93.4,507.3 L94.7,506.8 L95.9,506.4 L97.2,505.9 L98.4,505.4 L99.6,504.9 L100.9,504.4 L102.1,503.9 L103.4,503.4 L104.6,502.9 L105.9,502.4 L107.1,501.9 L108.4,501.4 L109.6,500.9 L110.9,500.4 L112.1,499.9 L113.3,499.4 L114.6,498.9 L115.8,498.3 L117.1,497.8 L118.3,497.3 L119.6,496.8 L120.8,496.2 L122.1,495.7 L123.3,495.1 L124.6,494.6 L125.8,494.1 L127.0,493.5 L128.3,493.0 L129.5,492.4 L130.8,491.9 L132.0,491.3 L133.3,490.7 L134.5,490.2 L135.8,489.6 L137.0,489.0 L138.3,488.5 L139.5,487.9 L140.8,487.3 L142.0,486.7 L143.2,486.1 L144.5,485.6 L145.7,485.0 L147.0,484.4 L148.2,483.8 L149.5,483.2 L150.7,482.6 L152.0,482.0 L153.2,481.3 L154.5,480.7 L155.7,480.1 L156.9,479.5 L158.2,478.9 L159.4,478.2 L160.7,477.6 L161.9,477.0 L163.2,476.3 L164.4,475.7 L165.7,475.0 L166.9,474.4 L168.2,473.7 L169.4,473.1 L170.6,472.4 L171.9,471.7 L173.1,471.1 L174.4,470.4 L175.6,469.7 L176.9,469.0 L178.1,468.3 L179.4,467.6 L180.6,466.9 L181.9,466.2 L183.1,465.5 L184.4,464.8 L185.6,464.1 L186.8,463.4 L188.1,462.7 L189.3,461.9 L190.6,461.2 L191.8,460.5 L193.1,459.7 L194.3,459.0 L195.6,458.3 L196.8,457.5 L198.1,456.7 L199.3,456.0 L200.5,455.2 L201.8,454.4 L203.0,453.7 L204.3,452.9 L205.5,452.1 L206.8,451.3 L208.0,450.5 L209.3,449.7 L210.5,448.9 L211.8,448.1 L213.0,447.3 L214.2,446.4 L215.5,445.6 L216.7,444.8 L218.0,443.9 L219.2,443.1 L220.5,442.2 L221.7,441.4 L223.0,440.5 L224.2,439.6 L225.5,438.8 L226.7,437.9 L227.9,437.0 L229.2,436.1 L230.4,435.2 L231.7,434.3 L232.9,433.4 L234.2,432.5 L235.4,431.6 L236.7,430.6 L237.9,429.7 L239.2,428.8 L240.4,427.8 L241.7,426.9 L242.9,425.9 L244.1,424.9 L245.4,423.9 L246.6,423.0 L247.9,422.0 L249.1,421.0 L250.4,420.0 L251.6,419.0 L252.9,417.9 L254.1,416.9 L255.4,415.9 L256.6,414.8 L257.8,413.8 L259.1,412.7 L260.3,411.7 L261.6,410.6 L262.8,409.5 L264.1,408.4 L265.3,407.3 L266.6,406.2 L267.8,405.1 L269.1,404.0 L270.3,402.9 L271.5,401.7 L272.8,400.6 L274.0,399.4 L275.3,398.2 L276.5,397.1 L277.8,395.9 L279.0,394.7 L280.3,393.5 L281.5,392.3 L282.8,391.1 L284.0,389.8 L285.3,388.6 L286.5,387.3 L287.7,386.1 L289.0,384.8 L290.2,383.5 L291.5,382.2 L292.7,380.9 L294.0,379.6 L295.2,378.3 L296.5,376.9 L297.7,375.6 L299.0,374.2 L300.2,372.9 L301.4,371.5 L302.7,370.1 L303.9,368.7 L305.2,367.3 L306.4,365.8 L307.7,364.4 L308.9,362.9 L310.2,361.5 L311.4,360.0 L312.7,358.5 L313.9,357.0 L315.1,355.5 L316.4,353.9 L317.6,352.4 L318.9,350.8 L320.1,349.3 L321.4,347.7 L322.6,346.1 L323.9,344.4 L325.1,342.8 L326.4,341.2 L327.6,339.5 L328.9,337.8 L330.1,336.1 L331.3,334.4 L332.6,332.7 L333.8,330.9 L335.1,329.2 L336.3,327.4 L337.6,325.6 L338.8,323.8 L340.1,322.0 L341.3,320.1 L342.6,318.3 L343.8,316.4 L345.0,314.5 L346.3,312.6 L347.5,310.6 L348.8,308.7 L350.0,306.7 L351.3,304.7 L352.5,302.6 L353.8,300.6 L355.0,298.5 L356.3,296.5 L357.5,294.4 L358.7,292.2 L360.0,290.1 L361.2,287.9 L362.5,285.7 L363.7,283.5 L365.0,281.2 L366.2,279.0 L367.5,276.7 L368.7,274.4 L370.0,272.0 L371.2,269.7 L372.5,267.3 L373.7,264.8 L374.9,262.4 L376.2,259.9 L377.4,257.4 L378.7,254.9 L379.9,252.3 L381.2,249.7 L382.4,247.1 L383.7,244.4 L384.9,241.8 L386.2,239.0 L387.4,236.3 L388.6,233.5 L389.9,230.7 L391.1,227.8 L392.4,224.9 L393.6,222.0 L394.9,219.1 L396.1,216.1 L397.4,213.0 L398.6,210.0 L399.9,206.9 L401.1,203.7 L402.3,200.5 L403.6,197.3 L404.8,194.0 L406.1,190.7 L407.3,187.3 L408.6,183.9 L409.8,180.5 L411.1,177.0 L412.3,173.5 L413.6,169.9 L414.8,166.2 L416.1,162.5 L417.3,158.8 L418.5,155.0 L419.8,151.1 L421.0,147.2 L422.3,143.3 L423.5,139.3 L424.8,135.2 L426.0,131.0 L427.3,126.8 L428.5,122.6 L429.8,118.3 L431.0,113.9 L432.2,109.4 L433.5,104.9 L434.7,100.3 L436.0,95.6 L437.2,90.9 L438.5,86.1 L439.7,81.2 L441.0,76.2" fill="none" stroke="#ffff7a" stroke-width="4" stroke-linecap="round" stroke-linejoin="round"/>
<g fill="#4c9f00">
<path d="M69.1,510.5l5.9,11.8h-11.8z"/>
<path d="M75.4,508.8l5.9,11.8h-11.8z"/>
<path d="M81.8,507.0l5.9,11.8h-11.8z"/>
<path d="M88.1,505.1l5.9,11.8h-11.8z"/>
<path d="M94.5,503.2l5.9,11.8h-11.8z"/>
<path d="M100.8,501.3l5.9,11.8h-11.8z"/>
<path d="M107.2,499.3l5.9,11.8h-11.8z"/>
<path d="M113.5,497.2l5.9,11.8h-11.8z"/>
<path d="M119.9,495.1l5.9,11.8h-11.8z"/>
<path d="M126.2,492.9l5.9,11.8h-11.8z"/>
<path d="M132.6,490.7l5.9,11.8h-11.8z"/>
<path d="M138.9,488.4l5.9,11.8h-11.8z"/>
<path d="M145.2,486.0l5.9,11.8h-11.8z"/>
<path d="M151.6,483.6l5.9,11.8h-11.8z"/>
<path d="M157.9,481.0l5.9,11.8h-11.8z"/>
<path d="M164.3,478.4l5.9,11.8h-11.8z"/>
<path d="M170.6,475.7l5.9,11.8h-11.8z"/>
<path d="M177.0,472.9l5.9,11.8h-11.8z"/>
<path d="M183.3,470.1l5.9,11.8h-11.8z"/>
<path d="M189.7,467.1l5.9,11.8h-11.8z"/>
<path d="M196.0,464.0l5.9,11.8h-11.8z"/>
<path d="M202.4,460.8l5.9,11.8h-11.8z"/>
<path d="M208.7,457.5l5.9,11.8h-11.8z"/>
<path d="M215.0,454.1l5.9,11.8h-11.8z"/>
<path d="M221.4,450.5l5.9,11.8h-11.8z"/>
<path d="M227.7,446.8l5.9,11.8h-11.8z"/>
<path d="M234.1,443.0l5.9,11.8h-11.8z"/>
<path d="M240.4,439.0l5.9,11.8h-11.8z"/>
<path d="M246.8,434.8l5.9,11.8h-11.8z"/>
<path d="M253.1,430.5l5.9,11.8h-11.8z"/>
<path d="M259.5,426.0l5.9,11.8h-11.8z"/>
<path d="M265.8,421.3l5.9,11.8h-11.8z"/>
<path d="M272.2,416.3l5.9,11.8h-11.8z"/>
<path d="M278.5,411.2l5.9,11.8h-11.8z"/>
<path d="M284.8,405.8l5.9,11.8h-11.8z"/>
<path d="M291.2,400.2l5.9,11.8h-11.8z"/>
<path d="M297.5,394.3l5.9,11.8h-11.8z"/>
<path d="M303.9,388.1l5.9,11.8h-11.8z"/>
<path d="M310.2,381.6l5.9,11.8h-11.8z"/>
<path d="M316.6,374.7l5.9,11.8h-11.8z"/>
<path d="M322.9,367.5l5.9,11.8h-11.8z"/>
<path d="M329.3,359.9l5.9,11.8h-11.8z"/>
<path d="M335.6,351.8l5.9,11.8h-11.8z"/>
<path d="M342.0,343.3l5.9,11.8h-11.8z"/>
<path d="M348.3,334.3l5.9,11.8h-11.8z"/>
<path d="M354.6,324.7l5.9,11.8h-11.8z"/>
<path d="M361.0,314.5l5.9,11.8h-11.8z"/>
<path d="M367.3,303.6l5.9,11.8h-11.8z"/>
<path d="M373.7,291.9l5.9,11.8h-11.8z"/>
<path d="M380.0,279.5l5.9,11.8h-11.8z"/>
<path d="M386.4,266.1l5.9,11.8h-11.8z"/>
<path d="M392.7,251.7l5.9,11.8h-11.8z"/>
<path d="M399.1,236.2l5.9,11.8h-11.8z"/>
<path d="M405.4,219.4l5.9,11.8h-11.8z"/>
<path d="M411.8,201.1l5.9,11.8h-11.8z"/>
<path d="M418.1,181.2l5.9,11.8h-11.8z"/>
<path d="M424.4,159.4l5.9,11.8h-11.8z"/>
<path d="M430.8,135.5l5.9,11.8h-11.8z"/>
<path d="M437.1,109.0l5.9,11.8h-11.8z"/>
<path d="M443.5,79.7l5.9,11.8h-11.8z"/>
</g>
<path d="M68.5,516.4 L69.8,516.1 L71.1,515.7 L72.3,515.3 L73.6,515.0 L74.9,514.6 L76.2,514.3 L77.5,513.9 L78.7,513.6 L80.0,513.2 L81.3,512.8 L82.6,512.5 L83.9,512.1 L85.1,511.7 L86.4,511.3 L87.7,511.0 L89.0,510.6 L90.3,510.2 L91.5,509.8 L92.8,509.4 L94.1,509.1 L95.4,508.7 L96.7,508.3 L97.9,507.9 L99.2,507.5 L100.5,507.1 L101.8,506.7 L103.1,506.3 L104.3,505.9 L105.6,505.5 L106.9,505.1 L108.2,504.7 L109.5,504.3 L110.7,503.8 L112.0,503.4 L113.3,503.0 L114.6,502.6 L115.9,502.2 L117.2,501.7 L118.4,501.3 L119.7,500.9 L121.0,500.4 L122.3,500.0 L123.6,499.6 L124.8,499.1 L126.1,498.7 L127.4,498.2 L128.7,497.8 L130.0,497.3 L131.2,496.9 L132.5,496.4 L133.8,495.9 L135.1,495.5 L136.4,495.0 L137.6,494.5 L138.9,494.1 L140.2,493.6 L141.5,493.1 L142.8,492.6 L144.0,492.1 L145.3,491.7 L146.6,491.2 L147.9,490.7 L149.2,490.2 L150.4,489.7 L151.7,489.2 L153.0,488.7 L154.3,488.2 L155.6,487.7 L156.8,487.1 L158.1,486.6 L159.4,486.1 L160.7,485.6 L162.0,485.0 L163.2,484.5 L164.5,484.0 L165.8,483.4 L167.1,482.9 L168.4,482.3 L169.6,481.8 L170.9,481.2 L172.2,480.7 L173.5,480.1 L174.8,479.6 L176.0,479.0 L177.3,478.4 L178.6,477.8 L179.9,477.3 L181.2,476.7 L182.4,476.1 L183.7,475.5 L185.0,474.9 L186.3,474.3 L187.6,473.7 L188.8,473.1 L190.1,472.5 L191.4,471.9 L192.7,471.2 L194.0,470.6 L195.2,470.0 L196.5,469.3 L197.8,468.7 L199.1,468.1 L200.4,467.4 L201.6,466.8 L202.9,466.1 L204.2,465.4 L205.5,464.8 L206.8,464.1 L208.0,463.4 L209.3,462.7 L210.6,462.0 L211.9,461.4 L213.2,460.7 L214.5,460.0 L215.7,459.2 L217.0,458.5 L218.3,457.8 L219.6,457.1 L220.9,456.4 L222.1,455.6 L223.4,454.9 L224.7,454.1 L226.0,453.4 L227.3,452.6 L228.5,451.9 L229.8,451.1 L231.1,450.3 L232.4,449.5 L233.7,448.8 L234.9,448.0 L236.2,447.2 L237.5,446.3 L238.8,445.5 L240.1,444.7 L241.3,443.9 L242.6,443.1 L243.9,442.2 L245.2,441.4 L246.5,440.5 L247.7,439.7 L249.0,438.8 L250.3,437.9 L251.6,437.0 L252.9,436.1 L254.1,435.2 L255.4,434.3 L256.7,433.4 L258.0,432.5 L259.3,431.6 L260.5,430.6 L261.8,429.7 L263.1,428.7 L264.4,427.8 L265.7,426.8 L266.9,425.8 L268.2,424.9 L269.5,423.9 L270.8,422.9 L272.1,421.8 L273.3,420.8 L274.6,419.8 L275.9,418.7 L277.2,417.7 L278.5,416.6 L279.7,415.6 L281.0,414.5 L282.3,413.4 L283.6,412.3 L284.9,411.2 L286.1,410.1 L287.4,408.9 L288.7,407.8 L290.0,406.6 L291.3,405.5 L292.5,404.3 L293.8,403.1 L295.1,401.9 L296.4,400.7 L297.7,399.5 L298.9,398.3 L300.2,397.0 L301.5,395.8 L302.8,394.5 L304.1,393.2 L305.3,391.9 L306.6,390.6 L307.9,389.3 L309.2,387.9 L310.5,386.6 L311.8,385.2 L313.0,383.9 L314.3,382.5 L315.6,381.1 L316.9,379.6 L318.2,378.2 L319.4,376.7 L320.7,375.3 L322.0,373.8 L323.3,372.3 L324.6,370.8 L325.8,369.2 L327.1,367.7 L328.4,366.1 L329.7,364.5 L331.0,362.9 L332.2,361.3 L333.5,359.7 L334.8,358.0 L336.1,356.3 L337.4,354.6 L338.6,352.9 L339.9,351.2 L341.2,349.4 L342.5,347.6 L343.8,345.8 L345.0,344.0 L346.3,342.2 L347.6,340.3 L348.9,338.4 L350.2,336.5 L351.4,334.6 L352.7,332.6 L354.0,330.6 L355.3,328.6 L356.6,326.6 L357.8,324.5 L359.1,322.5 L360.4,320.3 L361.7,318.2 L363.0,316.0 L364.2,313.8 L365.5,311.6 L366.8,309.4 L368.1,307.1 L369.4,304.7 L370.6,302.4 L371.9,300.0 L373.2,297.6 L374.5,295.2 L375.8,292.7 L377.0,290.2 L378.3,287.6 L379.6,285.0 L380.9,282.4 L382.2,279.7 L383.4,277.0 L384.7,274.3 L386.0,271.5 L387.3,268.7 L388.6,265.8 L389.8,262.9 L391.1,259.9 L392.4,256.9 L393.7,253.9 L395.0,250.8 L396.2,247.6 L397.5,244.4 L398.8,241.2 L400.1,237.9 L401.4,234.5 L402.6,231.1 L403.9,227.7 L405.2,224.1 L406.5,220.6 L407.8,216.9 L409.1,213.2 L410.3,209.4 L411.6,205.6 L412.9,201.7 L414.2,197.7 L415.5,193.7 L416.7,189.6 L418.0,185.4 L419.3,181.1 L420.6,176.8 L421.9,172.3 L423.1,167.8 L424.4,163.2 L425.7,158.5 L427.0,153.8 L428.3,148.9 L429.5,143.9 L430.8,138.9 L432.1,133.7 L433.4,128.4 L434.7,123.0 L435.9,117.5 L437.2,111.9 L438.5,106.2 L439.8,100.3 L441.1,94.3 L442.3,88.2 L443.6,82.0 L444.9,75.6 L446.2,69.0 L447.5,62.3 L448.7,55.5 L450.0,48.5 L451.3,41.3" fill="none" stroke="#8cff3c" stroke-width="4" stroke-linecap="round" stroke-linejoin="round"/>
<g fill="#00c8cc">
<path d="M68.5,510.2l6.0,6.2l-6.0,6.2l-6.0,-6.2z"/>
<path d="M74.9,508.8l6.0,6.2l-6.0,6.2l-6.0,-6.2z"/>
<path d="M81.2,507.5l6.0,6.2l-6.0,6.2l-6.0,-6.2z"/>
<path d="M87.6,506.0l6.0,6.2l-6.0,6.2l-6.0,-6.2z"/>
<path d="M93.9,504.6l6.0,6.2l-6.0,6.2l-6.0,-6.2z"/>
<path d="M100.3,503.0l6.0,6.2l-6.0,6.2l-6.0,-6.2z"/>
<path d="M106.7,501.5l6.0,6.2l-6.0,6.2l-6.0,-6.2z"/>
<path d="M113.0,499.9l6.0,6.2l-6.0,6.2l-6.0,-6.2z"/>
<path d="M119.4,498.2l6.0,6.2l-6.0,6.2l-6.0,-6.2z"/>
<path d="M125.7,496.5l6.0,6.2l-6.0,6.2l-6.0,-6.2z"/>
<path d="M132.1,494.7l6.0,6.2l-6.0,6.2l-6.0,-6.2z"/>
<path d="M138.4,492.9l6.0,6.2l-6.0,6.2l-6.0,-6.2z"/>
<path d="M144.8,491.0l6.0,6.2l-6.0,6.2l-6.0,-6.2z"/>
<path d="M151.2,489.1l6.0,6.2l-6.0,6.2l-6.0,-6.2z"/>
<path d="M157.5,487.1l6.0,6.2l-6.0,6.2l-6.0,-6.2z"/>
<path d="M163.9,485.0l6.0,6.2l-6.0,6.2l-6.0,-6.2z"/>
<path d="M170.2,482.8l6.0,6.2l-6.0,6.2l-6.0,-6.2z"/>
<path d="M176.6,480.6l6.0,6.2l-6.0,6.2l-6.0,-6.2z"/>
<path d="M183.0,478.3l6.0,6.2l-6.0,6.2l-6.0,-6.2z"/>
<path d="M189.3,475.9l6.0,6.2l-6.0,6.2l-6.0,-6.2z"/>
<path d="M195.7,473.4l6.0,6.2l-6.0,6.2l-6.0,-6.2z"/>
<path d="M202.0,470.8l6.0,6.2l-6.0,6.2l-6.0,-6.2z"/>
<path d="M208.4,468.1l6.0,6.2l-6.0,6.2l-6.0,-6.2z"/>
<path d="M214.7,465.4l6.0,6.2l-6.0,6.2l-6.0,-6.2z"/>
<path d="M221.1,462.4l6.0,6.2l-6.0,6.2l-6.0,-6.2z"/>
<path d="M227.5,459.4l6.0,6.2l-6.0,6.2l-6.0,-6.2z"/>
<path d="M233.8,456.3l6.0,6.2l-6.0,6.2l-6.0,-6.2z"/>
<path d="M240.2,453.0l6.0,6.2l-6.0,6.2l-6.0,-6.2z"/>
<path d="M246.5,449.5l6.0,6.2l-6.0,6.2l-6.0,-6.2z"/>
<path d="M252.9,445.9l6.0,6.2l-6.0,6.2l-6.0,-6.2z"/>
<path d="M259.3,442.1l6.0,6.2l-6.0,6.2l-6.0,-6.2z"/>
<path d="M265.6,438.2l6.0,6.2l-6.0,6.2l-6.0,-6.2z"/>
<path d="M272.0,434.0l6.0,6.2l-6.0,6.2l-6.0,-6.2z"/>
<path d="M278.3,429.7l6.0,6.2l-6.0,6.2l-6.0,-6.2z"/>
<path d="M284.7,425.1l6.0,6.2l-6.0,6.2l-6.0,-6.2z"/>
<path d="M291.0,420.3l6.0,6.2l-6.0,6.2l-6.0,-6.2z"/>
<path d="M297.4,415.2l6.0,6.2l-6.0,6.2l-6.0,-6.2z"/>
<path d="M303.8,409.9l6.0,6.2l-6.0,6.2l-6.0,-6.2z"/>
<path d="M310.1,404.2l6.0,6.2l-6.0,6.2l-6.0,-6.2z"/>
<path d="M316.5,398.2l6.0,6.2l-6.0,6.2l-6.0,-6.2z"/>
<path d="M322.8,391.8l6.0,6.2l-6.0,6.2l-6.0,-6.2z"/>
<path d="M329.2,385.0l6.0,6.2l-6.0,6.2l-6.0,-6.2z"/>
<path d="M335.6,377.8l6.0,6.2l-6.0,6.2l-6.0,-6.2z"/>
<path d="M341.9,370.1l6.0,6.2l-6.0,6.2l-6.0,-6.2z"/>
<path d="M348.3,361.9l6.0,6.2l-6.0,6.2l-6.0,-6.2z"/>
<path d="M354.6,353.0l6.0,6.2l-6.0,6.2l-6.0,-6.2z"/>
<path d="M361.0,343.6l6.0,6.2l-6.0,6.2l-6.0,-6.2z"/>
<path d="M367.3,333.3l6.0,6.2l-6.0,6.2l-6.0,-6.2z"/>
<path d="M373.7,322.3l6.0,6.2l-6.0,6.2l-6.0,-6.2z"/>
<path d="M380.1,310.3l6.0,6.2l-6.0,6.2l-6.0,-6.2z"/>
<path d="M386.4,297.3l6.0,6.2l-6.0,6.2l-6.0,-6.2z"/>
<path d="M392.8,283.1l6.0,6.2l-6.0,6.2l-6.0,-6.2z"/>
<path d="M399.1,267.5l6.0,6.2l-6.0,6.2l-6.0,-6.2z"/>
<path d="M405.5,250.3l6.0,6.2l-6.0,6.2l-6.0,-6.2z"/>
<path d="M411.9,231.4l6.0,6.2l-6.0,6.2l-6.0,-6.2z"/>
<path d="M418.2,210.3l6.0,6.2l-6.0,6.2l-6.0,-6.2z"/>
<path d="M424.6,186.6l6.0,6.2l-6.0,6.2l-6.0,-6.2z"/>
<path d="M430.9,160.0l6.0,6.2l-6.0,6.2l-6.0,-6.2z"/>
<path d="M437.3,129.8l6.0,6.2l-6.0,6.2l-6.0,-6.2z"/>
<path d="M443.6,95.2l6.0,6.2l-6.0,6.2l-6.0,-6.2z"/>
</g>
<path d="M68.5,516.4 L69.8,516.1 L71.1,515.9 L72.3,515.6 L73.6,515.3 L74.9,515.0 L76.2,514.8 L77.5,514.5 L78.7,514.2 L80.0,513.9 L81.3,513.6 L82.6,513.4 L83.9,513.1 L85.1,512.8 L86.4,512.5 L87.7,512.2 L89.0,511.9 L90.3,511.6 L91.5,511.3 L92.8,511.0 L94.1,510.7 L95.4,510.4 L96.7,510.1 L97.9,509.8 L99.2,509.5 L100.5,509.2 L101.8,508.9 L103.1,508.6 L104.3,508.2 L105.6,507.9 L106.9,507.6 L108.2,507.3 L109.5,507.0 L110.7,506.6 L112.0,506.3 L113.3,506.0 L114.6,505.7 L115.9,505.3 L117.2,505.0 L118.4,504.7 L119.7,504.3 L121.0,504.0 L122.3,503.6 L123.6,503.3 L124.8,502.9 L126.1,502.6 L127.4,502.2 L128.7,501.9 L130.0,501.5 L131.2,501.2 L132.5,500.8 L133.8,500.5 L135.1,500.1 L136.4,499.7 L137.6,499.4 L138.9,499.0 L140.2,498.6 L141.5,498.2 L142.8,497.8 L144.0,497.5 L145.3,497.1 L146.6,496.7 L147.9,496.3 L149.2,495.9 L150.4,495.5 L151.7,495.1 L153.0,494.7 L154.3,494.3 L155.6,493.9 L156.8,493.5 L158.1,493.1 L159.4,492.7 L160.7,492.3 L162.0,491.8 L163.2,491.4 L164.5,491.0 L165.8,490.6 L167.1,490.1 L168.4,489.7 L169.6,489.3 L170.9,488.8 L172.2,488.4 L173.5,487.9 L174.8,487.5 L176.0,487.0 L177.3,486.6 L178.6,486.1 L179.9,485.6 L181.2,485.2 L182.4,484.7 L183.7,484.2 L185.0,483.7 L186.3,483.3 L187.6,482.8 L188.8,482.3 L190.1,481.8 L191.4,481.3 L192.7,480.8 L194.0,480.3 L195.2,479.8 L196.5,479.3 L197.8,478.8 L199.1,478.2 L200.4,477.7 L201.6,477.2 L202.9,476.7 L204.2,476.1 L205.5,475.6 L206.8,475.0 L208.0,474.5 L209.3,473.9 L210.6,473.4 L211.9,472.8 L213.2,472.3 L214.5,471.7 L215.7,471.1 L217.0,470.5 L218.3,469.9 L219.6,469.4 L220.9,468.8 L222.1,468.2 L223.4,467.6 L224.7,467.0 L226.0,466.3 L227.3,465.7 L228.5,465.1 L229.8,464.5 L231.1,463.8 L232.4,463.2 L233.7,462.5 L234.9,461.9 L236.2,461.2 L237.5,460.6 L238.8,459.9 L240.1,459.2 L241.3,458.5 L242.6,457.9 L243.9,457.2 L245.2,456.5 L246.5,455.8 L247.7,455.0 L249.0,454.3 L250.3,453.6 L251.6,452.9 L252.9,452.1 L254.1,451.4 L255.4,450.6 L256.7,449.9 L258.0,449.1 L259.3,448.3 L260.5,447.6 L261.8,446.8 L263.1,446.0 L264.4,445.2 L265.7,444.4 L266.9,443.5 L268.2,442.7 L269.5,441.9 L270.8,441.0 L272.1,440.2 L273.3,439.3 L274.6,438.5 L275.9,437.6 L277.2,436.7 L278.5,435.8 L279.7,434.9 L281.0,434.0 L282.3,433.1 L283.6,432.1 L284.9,431.2 L286.1,430.2 L287.4,429.3 L288.7,428.3 L290.0,427.3 L291.3,426.3 L292.5,425.3 L293.8,424.3 L295.1,423.3 L296.4,422.2 L297.7,421.2 L298.9,420.1 L300.2,419.1 L301.5,418.0 L302.8,416.9 L304.1,415.8 L305.3,414.7 L306.6,413.5 L307.9,412.4 L309.2,411.2 L310.5,410.1 L311.8,408.9 L313.0,407.7 L314.3,406.5 L315.6,405.2 L316.9,404.0 L318.2,402.7 L319.4,401.5 L320.7,400.2 L322.0,398.9 L323.3,397.5 L324.6,396.2 L325.8,394.9 L327.1,393.5 L328.4,392.1 L329.7,390.7 L331.0,389.3 L332.2,387.8 L333.5,386.4 L334.8,384.9 L336.1,383.4 L337.4,381.9 L338.6,380.3 L339.9,378.8 L341.2,377.2 L342.5,375.6 L343.8,374.0 L345.0,372.3 L346.3,370.7 L347.6,369.0 L348.9,367.2 L350.2,365.5 L351.4,363.7 L352.7,362.0 L354.0,360.1 L355.3,358.3 L356.6,356.4 L357.8,354.5 L359.1,352.6 L360.4,350.7 L361.7,348.7 L363.0,346.7 L364.2,344.6 L365.5,342.5 L366.8,340.4 L368.1,338.3 L369.4,336.1 L370.6,333.9 L371.9,331.7 L373.2,329.4 L374.5,327.1 L375.8,324.7 L377.0,322.3 L378.3,319.9 L379.6,317.4 L380.9,314.9 L382.2,312.3 L383.4,309.7 L384.7,307.1 L386.0,304.4 L387.3,301.6 L388.6,298.8 L389.8,296.0 L391.1,293.1 L392.4,290.1 L393.7,287.1 L395.0,284.1 L396.2,281.0 L397.5,277.8 L398.8,274.5 L400.1,271.2 L401.4,267.9 L402.6,264.4 L403.9,260.9 L405.2,257.3 L406.5,253.7 L407.8,250.0 L409.1,246.2 L410.3,242.3 L411.6,238.3 L412.9,234.3 L414.2,230.1 L415.5,225.9 L416.7,221.6 L418.0,217.1 L419.3,212.6 L420.6,208.0 L421.9,203.2 L423.1,198.4 L424.4,193.4 L425.7,188.3 L427.0,183.1 L428.3,177.8 L429.5,172.3 L430.8,166.7 L432.1,160.9 L433.4,155.0 L434.7,149.0 L435.9,142.7 L437.2,136.4 L438.5,129.8 L439.8,123.0 L441.1,116.1 L442.3,108.9 L443.6,101.6 L444.9,94.0 L446.2,86.2 L447.5,78.2 L448.7,69.9 L450.0,61.3 L451.3,52.5" fill="none" stroke="#b4ffff" stroke-width="4" stroke-linecap="round" stroke-linejoin="round"/>
</g>
<text transform="translate(61.5,497.0) scale(1,1.15)" font-size="21.5" text-anchor="end" font-weight="bold" fill="#000">-4</text>
<text transform="translate(61.5,441.4) scale(1,1.15)" font-size="21.5" text-anchor="end" font-weight="bold" fill="#000">-2</text>
<text transform="translate(61.5,385.8) scale(1,1.15)" font-size="21.5" text-anchor="end" font-weight="bold" fill="#000">0</text>
<text transform="translate(61.5,330.2) scale(1,1.15)" font-size="21.5" text-anchor="end" font-weight="bold" fill="#000">2</text>
<text transform="translate(61.5,274.5) scale(1,1.15)" font-size="21.5" text-anchor="end" font-weight="bold" fill="#000">4</text>
<text transform="translate(61.5,218.9) scale(1,1.15)" font-size="21.5" text-anchor="end" font-weight="bold" fill="#000">6</text>
<text transform="translate(61.5,163.3) scale(1,1.15)" font-size="21.5" text-anchor="end" font-weight="bold" fill="#000">8</text>
<text transform="translate(61.5,107.7) scale(1,1.15)" font-size="21.5" text-anchor="end" font-weight="bold" fill="#000">10</text>
<text transform="translate(61.5,52.1) scale(1,1.15)" font-size="21.5" text-anchor="end" font-weight="bold" fill="#000">12</text>
<text transform="translate(68.5,548.6) scale(1,1.15)" font-size="21.5" text-anchor="middle" font-weight="bold" fill="#000">0.0</text>
<text transform="translate(145.1,548.6) scale(1,1.15)" font-size="21.5" text-anchor="middle" font-weight="bold" fill="#000">0.2</text>
<text transform="translate(221.6,548.6) scale(1,1.15)" font-size="21.5" text-anchor="middle" font-weight="bold" fill="#000">0.4</text>
<text transform="translate(298.2,548.6) scale(1,1.15)" font-size="21.5" text-anchor="middle" font-weight="bold" fill="#000">0.6</text>
<text transform="translate(374.7,548.6) scale(1,1.15)" font-size="21.5" text-anchor="middle" font-weight="bold" fill="#000">0.8</text>
<text transform="translate(451.3,548.6) scale(1,1.15)" font-size="21.5" text-anchor="middle" font-weight="bold" fill="#000">1.0</text>
<text transform="translate(405.2,492.9) scale(1.0,1.13)" font-size="23.5" text-anchor="middle" font-weight="bold" fill="#000">(a)</text>
<text transform="translate(22.2,258.2) rotate(-90) scale(1.15,1)" font-size="25.1" text-anchor="middle" font-weight="bold" fill="#000">log <tspan font-style="italic">η</tspan> [Pa · s]</text>
<text transform="translate(232.6,581.3) scale(1.1,1)" font-size="29" font-weight="bold" font-style="italic" fill="#000">T</text>
<text transform="translate(249.3,590.9) scale(1,1.2)" font-size="18" font-weight="bold" fill="#000">g</text>
<text transform="translate(262.5,581.3)" font-size="29" font-weight="bold" fill="#000">/</text>
<text transform="translate(270.3,581.3)" font-size="29" font-weight="bold" font-style="italic" fill="#000">T</text>
<rect x="86.3" y="24.2" width="110" height="155" fill="#fff"/>
<rect x="92" y="29.8" width="106.8" height="152.6" fill="#000"/>
<rect x="89.4" y="27.2" width="104.7" height="149.9" fill="#fff" stroke="#000" stroke-width="2.2"/>
<g fill="#ff0000"><ellipse cx="113.0" cy="44.9" rx="5.6" ry="6.0"/></g>
<text transform="translate(135.2,51.0) scale(1,1.13)" font-size="16.5" fill="#000" xml:space="preserve">No.  1</text>
<g fill="#0000d0"><ellipse cx="113.0" cy="67.8" rx="5.6" ry="6.0"/></g>
<text transform="translate(135.2,73.9) scale(1,1.13)" font-size="16.5" fill="#000" xml:space="preserve">No.  2</text>
<g fill="#000000"><ellipse cx="113.0" cy="90.8" rx="5.6" ry="6.0"/></g>
<text transform="translate(135.2,96.9) scale(1,1.13)" font-size="16.5" fill="#000" xml:space="preserve">No.  9</text>
<g fill="#cccc00"><rect x="107.4" y="107.7" width="11.2" height="12.0"/></g>
<text transform="translate(135.2,119.8) scale(1,1.13)" font-size="16.5" fill="#000" xml:space="preserve">No. 14</text>
<g fill="#4c9f00"><path d="M113.6,130.6l5.6,12.0h-11.2z"/></g>
<text transform="translate(135.2,142.7) scale(1,1.13)" font-size="16.5" fill="#000" xml:space="preserve">No. 23</text>
<g fill="#00c8cc"><path d="M113.0,153.6l5.6,6.0l-5.6,6.0l-5.6,-6.0z"/></g>
<text transform="translate(135.2,165.7) scale(1,1.13)" font-size="16.5" fill="#000" xml:space="preserve">No. 35</text>
<g fill="#000">
<rect x="628.25" y="11.10" width="380.80" height="4.0"/>
<rect x="628.25" y="507.40" width="380.80" height="4.0"/>
<rect x="628.25" y="11.10" width="4.1" height="500.30"/>
<rect x="1004.95" y="11.10" width="4.1" height="500.30"/>
<rect x="703.74" y="13.1" width="3.8" height="14.5"/><rect x="703.74" y="494.90" width="3.8" height="14.5"/>
<rect x="779.08" y="13.1" width="3.8" height="14.5"/><rect x="779.08" y="494.90" width="3.8" height="14.5"/>
<rect x="854.42" y="13.1" width="3.8" height="14.5"/><rect x="854.42" y="494.90" width="3.8" height="14.5"/>
<rect x="929.76" y="13.1" width="3.8" height="14.5"/><rect x="929.76" y="494.90" width="3.8" height="14.5"/>
<rect x="630.3" y="478.31" width="14.0" height="3.8"/><rect x="993.00" y="478.31" width="14.0" height="3.8"/>
<rect x="630.3" y="419.92" width="14.0" height="3.8"/><rect x="993.00" y="419.92" width="14.0" height="3.8"/>
<rect x="630.3" y="361.53" width="14.0" height="3.8"/><rect x="993.00" y="361.53" width="14.0" height="3.8"/>
<rect x="630.3" y="303.14" width="14.0" height="3.8"/><rect x="993.00" y="303.14" width="14.0" height="3.8"/>
<rect x="630.3" y="244.75" width="14.0" height="3.8"/><rect x="993.00" y="244.75" width="14.0" height="3.8"/>
<rect x="630.3" y="186.36" width="14.0" height="3.8"/><rect x="993.00" y="186.36" width="14.0" height="3.8"/>
<rect x="630.3" y="127.98" width="14.0" height="3.8"/><rect x="993.00" y="127.98" width="14.0" height="3.8"/>
<rect x="630.3" y="69.59" width="14.0" height="3.8"/><rect x="993.00" y="69.59" width="14.0" height="3.8"/>
</g>
<g clip-path="url(#cb)" fill="none" stroke-linecap="round" stroke-linejoin="round">
<path d="M630.3,509.4 L631.2,509.3 L632.2,509.3 L633.1,509.2 L634.1,509.1 L635.0,509.1 L636.0,509.0 L636.9,508.9 L637.9,508.9 L638.8,508.8 L639.7,508.7 L640.7,508.6 L641.6,508.5 L642.6,508.5 L643.5,508.4 L644.5,508.3 L645.4,508.2 L646.3,508.1 L647.3,508.0 L648.2,507.9 L649.2,507.8 L650.1,507.7 L651.1,507.6 L652.0,507.5 L653.0,507.4 L653.9,507.3 L654.8,507.2 L655.8,507.1 L656.7,507.0 L657.7,506.9 L658.6,506.8 L659.6,506.7 L660.5,506.5 L661.5,506.4 L662.4,506.3 L663.3,506.2 L664.3,506.1 L665.2,505.9 L666.2,505.8 L667.1,505.7 L668.1,505.5 L669.0,505.4 L670.0,505.3 L670.9,505.1 L671.8,505.0 L672.8,504.8 L673.7,504.7 L674.7,504.6 L675.6,504.4 L676.6,504.3 L677.5,504.1 L678.4,503.9 L679.4,503.8 L680.3,503.6 L681.3,503.5 L682.2,503.3 L683.2,503.1 L684.1,503.0 L685.1,502.8 L686.0,502.6 L686.9,502.5 L687.9,502.3 L688.8,502.1 L689.8,501.9 L690.7,501.8 L691.7,501.6 L692.6,501.4 L693.6,501.2 L694.5,501.0 L695.4,500.8 L696.4,500.6 L697.3,500.4 L698.3,500.2 L699.2,500.0 L700.2,499.8 L701.1,499.6 L702.1,499.4 L703.0,499.2 L703.9,499.0 L704.9,498.8 L705.8,498.6 L706.8,498.4 L707.7,498.2 L708.7,497.9 L709.6,497.7 L710.5,497.5 L711.5,497.3 L712.4,497.0 L713.4,496.8 L714.3,496.6 L715.3,496.3 L716.2,496.1 L717.2,495.8 L718.1,495.6 L719.0,495.3 L720.0,495.1 L720.9,494.8 L721.9,494.6 L722.8,494.3 L723.8,494.1 L724.7,493.8 L725.7,493.6 L726.6,493.3 L727.5,493.0 L728.5,492.7 L729.4,492.5 L730.4,492.2 L731.3,491.9 L732.3,491.6 L733.2,491.4 L734.2,491.1 L735.1,490.8 L736.0,490.5 L737.0,490.2 L737.9,489.9 L738.9,489.6 L739.8,489.3 L740.8,489.0 L741.7,488.7 L742.6,488.4 L743.6,488.1 L744.5,487.7 L745.5,487.4 L746.4,487.1 L747.4,486.8 L748.3,486.5 L749.3,486.1 L750.2,485.8 L751.1,485.5 L752.1,485.1 L753.0,484.8 L754.0,484.4 L754.9,484.1 L755.9,483.7 L756.8,483.4 L757.8,483.0 L758.7,482.7 L759.6,482.3 L760.6,481.9 L761.5,481.6 L762.5,481.2 L763.4,480.8 L764.4,480.5 L765.3,480.1 L766.3,479.7 L767.2,479.3 L768.1,478.9 L769.1,478.5 L770.0,478.1 L771.0,477.7 L771.9,477.3 L772.9,476.9 L773.8,476.5 L774.7,476.1 L775.7,475.7 L776.6,475.3 L777.6,474.8 L778.5,474.4 L779.5,474.0 L780.4,473.5 L781.4,473.1 L782.3,472.7 L783.2,472.2 L784.2,471.8 L785.1,471.3 L786.1,470.8 L787.0,470.4 L788.0,469.9 L788.9,469.5 L789.9,469.0 L790.8,468.5 L791.7,468.0 L792.7,467.5 L793.6,467.0 L794.6,466.6 L795.5,466.1 L796.5,465.6 L797.4,465.1 L798.4,464.5 L799.3,464.0 L800.2,463.5 L801.2,463.0 L802.1,462.5 L803.1,461.9 L804.0,461.4 L805.0,460.9 L805.9,460.3 L806.8,459.8 L807.8,459.2 L808.7,458.7 L809.7,458.1 L810.6,457.5 L811.6,457.0 L812.5,456.4 L813.5,455.8 L814.4,455.2 L815.3,454.6 L816.3,454.0 L817.2,453.4 L818.2,452.8 L819.1,452.2 L820.1,451.6 L821.0,451.0 L822.0,450.3 L822.9,449.7 L823.8,449.1 L824.8,448.4 L825.7,447.8 L826.7,447.1 L827.6,446.5 L828.6,445.8 L829.5,445.1 L830.5,444.5 L831.4,443.8 L832.3,443.1 L833.3,442.4 L834.2,441.7 L835.2,441.0 L836.1,440.3 L837.1,439.6 L838.0,438.8 L838.9,438.1 L839.9,437.4 L840.8,436.6 L841.8,435.9 L842.7,435.1 L843.7,434.3 L844.6,433.6 L845.6,432.8 L846.5,432.0 L847.4,431.2 L848.4,430.4 L849.3,429.6 L850.3,428.8 L851.2,428.0 L852.2,427.2 L853.1,426.3 L854.1,425.5 L855.0,424.6 L855.9,423.8 L856.9,422.9 L857.8,422.0 L858.8,421.2 L859.7,420.3 L860.7,419.4 L861.6,418.5 L862.6,417.5 L863.5,416.6 L864.4,415.7 L865.4,414.8 L866.3,413.8 L867.3,412.8 L868.2,411.9 L869.2,410.9 L870.1,409.9 L871.0,408.9 L872.0,407.9 L872.9,406.9 L873.9,405.9 L874.8,404.9 L875.8,403.8 L876.7,402.8 L877.7,401.7 L878.6,400.6 L879.5,399.5 L880.5,398.5 L881.4,397.3 L882.4,396.2 L883.3,395.1 L884.3,394.0 L885.2,392.8 L886.2,391.7 L887.1,390.5 L888.0,389.3 L889.0,388.1 L889.9,386.9 L890.9,385.7 L891.8,384.4 L892.8,383.2 L893.7,381.9 L894.7,380.7 L895.6,379.4 L896.5,378.1 L897.5,376.8 L898.4,375.5 L899.4,374.1 L900.3,372.8 L901.3,371.4 L902.2,370.0 L903.1,368.6 L904.1,367.2 L905.0,365.8 L906.0,364.3 L906.9,362.9 L907.9,361.4 L908.8,359.9 L909.8,358.4 L910.7,356.9 L911.6,355.4 L912.6,353.8 L913.5,352.2 L914.5,350.6 L915.4,349.0 L916.4,347.4 L917.3,345.7 L918.3,344.1 L919.2,342.4 L920.1,340.7 L921.1,339.0 L922.0,337.2 L923.0,335.5 L923.9,333.7 L924.9,331.9 L925.8,330.0 L926.8,328.2 L927.7,326.3 L928.6,324.4 L929.6,322.5 L930.5,320.6 L931.5,318.6 L932.4,316.6 L933.4,314.6 L934.3,312.5 L935.2,310.5 L936.2,308.4 L937.1,306.3 L938.1,304.1 L939.0,302.0 L940.0,299.8 L940.9,297.5 L941.9,295.3 L942.8,293.0 L943.7,290.7 L944.7,288.3 L945.6,285.9 L946.6,283.5 L947.5,281.1 L948.5,278.6 L949.4,276.1 L950.4,273.5 L951.3,270.9 L952.2,268.3 L953.2,265.7 L954.1,263.0 L955.1,260.2 L956.0,257.5 L957.0,254.7 L957.9,251.8 L958.9,248.9 L959.8,246.0 L960.7,243.0 L961.7,240.0 L962.6,236.9 L963.6,233.8 L964.5,230.6 L965.5,227.4 L966.4,224.2 L967.3,220.8 L968.3,217.5 L969.2,214.1 L970.2,210.6 L971.1,207.1 L972.1,203.5 L973.0,199.8 L974.0,196.1 L974.9,192.4 L975.8,188.5 L976.8,184.6 L977.7,180.7 L978.7,176.7 L979.6,172.6 L980.6,168.4 L981.5,164.2 L982.5,159.8 L983.4,155.4 L984.3,151.0 L985.3,146.4 L986.2,141.8 L987.2,137.1 L988.1,132.3 L989.1,127.4 L990.0,122.4 L991.0,117.3 L991.9,112.1 L992.8,106.8 L993.8,101.4 L994.7,95.9 L995.7,90.3 L996.6,84.6 L997.6,78.8 L998.5,72.8 L999.4,66.7 L1000.4,60.5 L1001.3,54.2 L1002.3,47.7 L1003.2,41.1 L1004.2,34.3 L1005.1,27.4 L1006.1,20.3 L1007.0,13.1" stroke="#858585" stroke-width="4.2" stroke-dasharray="0.1 8.7"/>
<path d="M630.3,509.4 L631.2,508.9 L632.2,508.4 L633.1,507.9 L634.1,507.4 L635.0,506.9 L636.0,506.5 L636.9,506.0 L637.9,505.5 L638.8,505.0 L639.7,504.5 L640.7,504.0 L641.6,503.5 L642.6,503.1 L643.5,502.6 L644.5,502.1 L645.4,501.6 L646.3,501.1 L647.3,500.6 L648.2,500.2 L649.2,499.7 L650.1,499.2 L651.1,498.7 L652.0,498.2 L653.0,497.8 L653.9,497.3 L654.8,496.8 L655.8,496.3 L656.7,495.9 L657.7,495.4 L658.6,494.9 L659.6,494.4 L660.5,494.0 L661.5,493.5 L662.4,493.0 L663.3,492.5 L664.3,492.1 L665.2,491.6 L666.2,491.1 L667.1,490.6 L668.1,490.2 L669.0,489.7 L670.0,489.2 L670.9,488.7 L671.8,488.3 L672.8,487.8 L673.7,487.3 L674.7,486.9 L675.6,486.4 L676.6,485.9 L677.5,485.4 L678.4,485.0 L679.4,484.5 L680.3,484.0 L681.3,483.6 L682.2,483.1 L683.2,482.6 L684.1,482.1 L685.1,481.7 L686.0,481.2 L686.9,480.7 L687.9,480.3 L688.8,479.8 L689.8,479.3 L690.7,478.9 L691.7,478.4 L692.6,477.9 L693.6,477.4 L694.5,477.0 L695.4,476.5 L696.4,476.0 L697.3,475.6 L698.3,475.1 L699.2,474.6 L700.2,474.1 L701.1,473.7 L702.1,473.2 L703.0,472.7 L703.9,472.2 L704.9,471.8 L705.8,471.3 L706.8,470.8 L707.7,470.4 L708.7,469.9 L709.6,469.4 L710.5,468.9 L711.5,468.5 L712.4,468.0 L713.4,467.5 L714.3,467.0 L715.3,466.5 L716.2,466.1 L717.2,465.6 L718.1,465.1 L719.0,464.6 L720.0,464.2 L720.9,463.7 L721.9,463.2 L722.8,462.7 L723.8,462.2 L724.7,461.7 L725.7,461.3 L726.6,460.8 L727.5,460.3 L728.5,459.8 L729.4,459.3 L730.4,458.8 L731.3,458.4 L732.3,457.9 L733.2,457.4 L734.2,456.9 L735.1,456.4 L736.0,455.9 L737.0,455.4 L737.9,454.9 L738.9,454.4 L739.8,453.9 L740.8,453.4 L741.7,452.9 L742.6,452.5 L743.6,452.0 L744.5,451.5 L745.5,451.0 L746.4,450.5 L747.4,450.0 L748.3,449.5 L749.3,449.0 L750.2,448.5 L751.1,447.9 L752.1,447.4 L753.0,446.9 L754.0,446.4 L754.9,445.9 L755.9,445.4 L756.8,444.9 L757.8,444.4 L758.7,443.9 L759.6,443.4 L760.6,442.8 L761.5,442.3 L762.5,441.8 L763.4,441.3 L764.4,440.8 L765.3,440.2 L766.3,439.7 L767.2,439.2 L768.1,438.7 L769.1,438.1 L770.0,437.6 L771.0,437.1 L771.9,436.5 L772.9,436.0 L773.8,435.5 L774.7,434.9 L775.7,434.4 L776.6,433.8 L777.6,433.3 L778.5,432.8 L779.5,432.2 L780.4,431.7 L781.4,431.1 L782.3,430.6 L783.2,430.0 L784.2,429.5 L785.1,428.9 L786.1,428.3 L787.0,427.8 L788.0,427.2 L788.9,426.7 L789.9,426.1 L790.8,425.5 L791.7,425.0 L792.7,424.4 L793.6,423.8 L794.6,423.2 L795.5,422.7 L796.5,422.1 L797.4,421.5 L798.4,420.9 L799.3,420.3 L800.2,419.7 L801.2,419.1 L802.1,418.5 L803.1,418.0 L804.0,417.4 L805.0,416.8 L805.9,416.1 L806.8,415.5 L807.8,414.9 L808.7,414.3 L809.7,413.7 L810.6,413.1 L811.6,412.5 L812.5,411.8 L813.5,411.2 L814.4,410.6 L815.3,410.0 L816.3,409.3 L817.2,408.7 L818.2,408.1 L819.1,407.4 L820.1,406.8 L821.0,406.1 L822.0,405.5 L822.9,404.8 L823.8,404.1 L824.8,403.5 L825.7,402.8 L826.7,402.2 L827.6,401.5 L828.6,400.8 L829.5,400.1 L830.5,399.4 L831.4,398.8 L832.3,398.1 L833.3,397.4 L834.2,396.7 L835.2,396.0 L836.1,395.3 L837.1,394.6 L838.0,393.8 L838.9,393.1 L839.9,392.4 L840.8,391.7 L841.8,391.0 L842.7,390.2 L843.7,389.5 L844.6,388.7 L845.6,388.0 L846.5,387.2 L847.4,386.5 L848.4,385.7 L849.3,385.0 L850.3,384.2 L851.2,383.4 L852.2,382.6 L853.1,381.9 L854.1,381.1 L855.0,380.3 L855.9,379.5 L856.9,378.7 L857.8,377.9 L858.8,377.0 L859.7,376.2 L860.7,375.4 L861.6,374.6 L862.6,373.7 L863.5,372.9 L864.4,372.0 L865.4,371.2 L866.3,370.3 L867.3,369.4 L868.2,368.6 L869.2,367.7 L870.1,366.8 L871.0,365.9 L872.0,365.0 L872.9,364.1 L873.9,363.2 L874.8,362.2 L875.8,361.3 L876.7,360.4 L877.7,359.4 L878.6,358.5 L879.5,357.5 L880.5,356.6 L881.4,355.6 L882.4,354.6 L883.3,353.6 L884.3,352.6 L885.2,351.6 L886.2,350.6 L887.1,349.6 L888.0,348.5 L889.0,347.5 L889.9,346.4 L890.9,345.4 L891.8,344.3 L892.8,343.2 L893.7,342.2 L894.7,341.1 L895.6,339.9 L896.5,338.8 L897.5,337.7 L898.4,336.6 L899.4,335.4 L900.3,334.3 L901.3,333.1 L902.2,331.9 L903.1,330.7 L904.1,329.5 L905.0,328.3 L906.0,327.1 L906.9,325.8 L907.9,324.6 L908.8,323.3 L909.8,322.0 L910.7,320.7 L911.6,319.4 L912.6,318.1 L913.5,316.8 L914.5,315.4 L915.4,314.1 L916.4,312.7 L917.3,311.3 L918.3,309.9 L919.2,308.5 L920.1,307.0 L921.1,305.6 L922.0,304.1 L923.0,302.6 L923.9,301.1 L924.9,299.6 L925.8,298.1 L926.8,296.5 L927.7,294.9 L928.6,293.4 L929.6,291.7 L930.5,290.1 L931.5,288.5 L932.4,286.8 L933.4,285.1 L934.3,283.4 L935.2,281.6 L936.2,279.9 L937.1,278.1 L938.1,276.3 L939.0,274.5 L940.0,272.6 L940.9,270.7 L941.9,268.8 L942.8,266.9 L943.7,265.0 L944.7,263.0 L945.6,261.0 L946.6,258.9 L947.5,256.9 L948.5,254.8 L949.4,252.7 L950.4,250.5 L951.3,248.3 L952.2,246.1 L953.2,243.9 L954.1,241.6 L955.1,239.2 L956.0,236.9 L957.0,234.5 L957.9,232.1 L958.9,229.6 L959.8,227.1 L960.7,224.5 L961.7,222.0 L962.6,219.3 L963.6,216.7 L964.5,213.9 L965.5,211.2 L966.4,208.4 L967.3,205.5 L968.3,202.6 L969.2,199.6 L970.2,196.6 L971.1,193.5 L972.1,190.4 L973.0,187.2 L974.0,184.0 L974.9,180.7 L975.8,177.3 L976.8,173.9 L977.7,170.4 L978.7,166.8 L979.6,163.2 L980.6,159.5 L981.5,155.7 L982.5,151.8 L983.4,147.9 L984.3,143.9 L985.3,139.8 L986.2,135.6 L987.2,131.3 L988.1,126.9 L989.1,122.4 L990.0,117.8 L991.0,113.2 L991.9,108.4 L992.8,103.5 L993.8,98.4 L994.7,93.3 L995.7,88.0 L996.6,82.6 L997.6,77.1 L998.5,71.4 L999.4,65.6 L1000.4,59.7 L1001.3,53.5 L1002.3,47.2 L1003.2,40.8 L1004.2,34.2 L1005.1,27.3 L1006.1,20.3 L1007.0,13.1" stroke="#808080" stroke-width="4.4"/>
<path d="M630.3,509.4 L631.2,508.5 L632.2,507.7 L633.1,506.8 L634.1,506.0 L635.0,505.2 L636.0,504.3 L636.9,503.5 L637.9,502.7 L638.8,501.8 L639.7,501.0 L640.7,500.2 L641.6,499.3 L642.6,498.5 L643.5,497.7 L644.5,496.9 L645.4,496.1 L646.3,495.3 L647.3,494.5 L648.2,493.7 L649.2,492.8 L650.1,492.0 L651.1,491.2 L652.0,490.5 L653.0,489.7 L653.9,488.9 L654.8,488.1 L655.8,487.3 L656.7,486.5 L657.7,485.7 L658.6,484.9 L659.6,484.2 L660.5,483.4 L661.5,482.6 L662.4,481.8 L663.3,481.1 L664.3,480.3 L665.2,479.5 L666.2,478.8 L667.1,478.0 L668.1,477.3 L669.0,476.5 L670.0,475.7 L670.9,475.0 L671.8,474.2 L672.8,473.5 L673.7,472.7 L674.7,472.0 L675.6,471.3 L676.6,470.5 L677.5,469.8 L678.4,469.0 L679.4,468.3 L680.3,467.6 L681.3,466.8 L682.2,466.1 L683.2,465.4 L684.1,464.6 L685.1,463.9 L686.0,463.2 L686.9,462.5 L687.9,461.7 L688.8,461.0 L689.8,460.3 L690.7,459.6 L691.7,458.9 L692.6,458.2 L693.6,457.4 L694.5,456.7 L695.4,456.0 L696.4,455.3 L697.3,454.6 L698.3,453.9 L699.2,453.2 L700.2,452.5 L701.1,451.8 L702.1,451.1 L703.0,450.4 L703.9,449.7 L704.9,449.0 L705.8,448.3 L706.8,447.6 L707.7,446.9 L708.7,446.2 L709.6,445.5 L710.5,444.9 L711.5,444.2 L712.4,443.5 L713.4,442.8 L714.3,442.1 L715.3,441.4 L716.2,440.7 L717.2,440.1 L718.1,439.4 L719.0,438.7 L720.0,438.0 L720.9,437.4 L721.9,436.7 L722.8,436.0 L723.8,435.3 L724.7,434.7 L725.7,434.0 L726.6,433.3 L727.5,432.6 L728.5,432.0 L729.4,431.3 L730.4,430.6 L731.3,430.0 L732.3,429.3 L733.2,428.6 L734.2,428.0 L735.1,427.3 L736.0,426.6 L737.0,426.0 L737.9,425.3 L738.9,424.6 L739.8,424.0 L740.8,423.3 L741.7,422.7 L742.6,422.0 L743.6,421.3 L744.5,420.7 L745.5,420.0 L746.4,419.4 L747.4,418.7 L748.3,418.1 L749.3,417.4 L750.2,416.7 L751.1,416.1 L752.1,415.4 L753.0,414.8 L754.0,414.1 L754.9,413.5 L755.9,412.8 L756.8,412.2 L757.8,411.5 L758.7,410.9 L759.6,410.2 L760.6,409.5 L761.5,408.9 L762.5,408.2 L763.4,407.6 L764.4,406.9 L765.3,406.3 L766.3,405.6 L767.2,405.0 L768.1,404.3 L769.1,403.7 L770.0,403.0 L771.0,402.4 L771.9,401.7 L772.9,401.1 L773.8,400.4 L774.7,399.8 L775.7,399.1 L776.6,398.5 L777.6,397.8 L778.5,397.2 L779.5,396.5 L780.4,395.8 L781.4,395.2 L782.3,394.5 L783.2,393.9 L784.2,393.2 L785.1,392.6 L786.1,391.9 L787.0,391.3 L788.0,390.6 L788.9,389.9 L789.9,389.3 L790.8,388.6 L791.7,388.0 L792.7,387.3 L793.6,386.7 L794.6,386.0 L795.5,385.3 L796.5,384.7 L797.4,384.0 L798.4,383.3 L799.3,382.7 L800.2,382.0 L801.2,381.3 L802.1,380.7 L803.1,380.0 L804.0,379.3 L805.0,378.7 L805.9,378.0 L806.8,377.3 L807.8,376.7 L808.7,376.0 L809.7,375.3 L810.6,374.6 L811.6,374.0 L812.5,373.3 L813.5,372.6 L814.4,371.9 L815.3,371.2 L816.3,370.6 L817.2,369.9 L818.2,369.2 L819.1,368.5 L820.1,367.8 L821.0,367.1 L822.0,366.4 L822.9,365.7 L823.8,365.1 L824.8,364.4 L825.7,363.7 L826.7,363.0 L827.6,362.3 L828.6,361.6 L829.5,360.9 L830.5,360.1 L831.4,359.4 L832.3,358.7 L833.3,358.0 L834.2,357.3 L835.2,356.6 L836.1,355.9 L837.1,355.1 L838.0,354.4 L838.9,353.7 L839.9,353.0 L840.8,352.2 L841.8,351.5 L842.7,350.8 L843.7,350.0 L844.6,349.3 L845.6,348.6 L846.5,347.8 L847.4,347.1 L848.4,346.3 L849.3,345.6 L850.3,344.8 L851.2,344.0 L852.2,343.3 L853.1,342.5 L854.1,341.8 L855.0,341.0 L855.9,340.2 L856.9,339.4 L857.8,338.7 L858.8,337.9 L859.7,337.1 L860.7,336.3 L861.6,335.5 L862.6,334.7 L863.5,333.9 L864.4,333.1 L865.4,332.3 L866.3,331.5 L867.3,330.7 L868.2,329.8 L869.2,329.0 L870.1,328.2 L871.0,327.3 L872.0,326.5 L872.9,325.7 L873.9,324.8 L874.8,324.0 L875.8,323.1 L876.7,322.2 L877.7,321.4 L878.6,320.5 L879.5,319.6 L880.5,318.7 L881.4,317.9 L882.4,317.0 L883.3,316.1 L884.3,315.2 L885.2,314.2 L886.2,313.3 L887.1,312.4 L888.0,311.5 L889.0,310.5 L889.9,309.6 L890.9,308.7 L891.8,307.7 L892.8,306.7 L893.7,305.8 L894.7,304.8 L895.6,303.8 L896.5,302.8 L897.5,301.8 L898.4,300.8 L899.4,299.8 L900.3,298.8 L901.3,297.8 L902.2,296.7 L903.1,295.7 L904.1,294.7 L905.0,293.6 L906.0,292.5 L906.9,291.4 L907.9,290.4 L908.8,289.3 L909.8,288.2 L910.7,287.0 L911.6,285.9 L912.6,284.8 L913.5,283.6 L914.5,282.5 L915.4,281.3 L916.4,280.1 L917.3,278.9 L918.3,277.7 L919.2,276.5 L920.1,275.3 L921.1,274.0 L922.0,272.8 L923.0,271.5 L923.9,270.2 L924.9,269.0 L925.8,267.6 L926.8,266.3 L927.7,265.0 L928.6,263.6 L929.6,262.3 L930.5,260.9 L931.5,259.5 L932.4,258.1 L933.4,256.7 L934.3,255.2 L935.2,253.7 L936.2,252.3 L937.1,250.8 L938.1,249.2 L939.0,247.7 L940.0,246.1 L940.9,244.6 L941.9,243.0 L942.8,241.3 L943.7,239.7 L944.7,238.0 L945.6,236.3 L946.6,234.6 L947.5,232.9 L948.5,231.1 L949.4,229.3 L950.4,227.5 L951.3,225.7 L952.2,223.8 L953.2,221.9 L954.1,220.0 L955.1,218.0 L956.0,216.1 L957.0,214.0 L957.9,212.0 L958.9,209.9 L959.8,207.8 L960.7,205.6 L961.7,203.4 L962.6,201.2 L963.6,198.9 L964.5,196.6 L965.5,194.3 L966.4,191.9 L967.3,189.4 L968.3,186.9 L969.2,184.4 L970.2,181.8 L971.1,179.2 L972.1,176.5 L973.0,173.8 L974.0,171.0 L974.9,168.1 L975.8,165.2 L976.8,162.2 L977.7,159.2 L978.7,156.1 L979.6,152.9 L980.6,149.7 L981.5,146.3 L982.5,142.9 L983.4,139.5 L984.3,135.9 L985.3,132.2 L986.2,128.5 L987.2,124.7 L988.1,120.7 L989.1,116.7 L990.0,112.6 L991.0,108.3 L991.9,104.0 L992.8,99.5 L993.8,94.9 L994.7,90.1 L995.7,85.3 L996.6,80.2 L997.6,75.1 L998.5,69.7 L999.4,64.2 L1000.4,58.5 L1001.3,52.7 L1002.3,46.6 L1003.2,40.4 L1004.2,33.9 L1005.1,27.2 L1006.1,20.3 L1007.0,13.1" stroke="#808080" stroke-width="4.4" stroke-dasharray="4.6 9.2 0.1 8.2 0.1 9.0" stroke-dashoffset="24.5"/>
<path d="M630.3,509.4 L631.2,508.4 L632.2,507.4 L633.1,506.4 L634.1,505.4 L635.0,504.5 L636.0,503.5 L636.9,502.5 L637.9,501.5 L638.8,500.6 L639.7,499.6 L640.7,498.6 L641.6,497.7 L642.6,496.7 L643.5,495.8 L644.5,494.8 L645.4,493.9 L646.3,493.0 L647.3,492.0 L648.2,491.1 L649.2,490.1 L650.1,489.2 L651.1,488.3 L652.0,487.4 L653.0,486.5 L653.9,485.5 L654.8,484.6 L655.8,483.7 L656.7,482.8 L657.7,481.9 L658.6,481.0 L659.6,480.1 L660.5,479.2 L661.5,478.3 L662.4,477.4 L663.3,476.6 L664.3,475.7 L665.2,474.8 L666.2,473.9 L667.1,473.0 L668.1,472.2 L669.0,471.3 L670.0,470.4 L670.9,469.6 L671.8,468.7 L672.8,467.8 L673.7,467.0 L674.7,466.1 L675.6,465.3 L676.6,464.4 L677.5,463.6 L678.4,462.7 L679.4,461.9 L680.3,461.1 L681.3,460.2 L682.2,459.4 L683.2,458.6 L684.1,457.7 L685.1,456.9 L686.0,456.1 L686.9,455.2 L687.9,454.4 L688.8,453.6 L689.8,452.8 L690.7,452.0 L691.7,451.2 L692.6,450.3 L693.6,449.5 L694.5,448.7 L695.4,447.9 L696.4,447.1 L697.3,446.3 L698.3,445.5 L699.2,444.7 L700.2,443.9 L701.1,443.1 L702.1,442.4 L703.0,441.6 L703.9,440.8 L704.9,440.0 L705.8,439.2 L706.8,438.4 L707.7,437.7 L708.7,436.9 L709.6,436.1 L710.5,435.3 L711.5,434.6 L712.4,433.8 L713.4,433.0 L714.3,432.3 L715.3,431.5 L716.2,430.7 L717.2,430.0 L718.1,429.2 L719.0,428.4 L720.0,427.7 L720.9,426.9 L721.9,426.2 L722.8,425.4 L723.8,424.7 L724.7,423.9 L725.7,423.2 L726.6,422.4 L727.5,421.7 L728.5,420.9 L729.4,420.2 L730.4,419.4 L731.3,418.7 L732.3,418.0 L733.2,417.2 L734.2,416.5 L735.1,415.8 L736.0,415.0 L737.0,414.3 L737.9,413.6 L738.9,412.8 L739.8,412.1 L740.8,411.4 L741.7,410.6 L742.6,409.9 L743.6,409.2 L744.5,408.5 L745.5,407.7 L746.4,407.0 L747.4,406.3 L748.3,405.6 L749.3,404.9 L750.2,404.1 L751.1,403.4 L752.1,402.7 L753.0,402.0 L754.0,401.3 L754.9,400.6 L755.9,399.9 L756.8,399.1 L757.8,398.4 L758.7,397.7 L759.6,397.0 L760.6,396.3 L761.5,395.6 L762.5,394.9 L763.4,394.2 L764.4,393.5 L765.3,392.8 L766.3,392.1 L767.2,391.4 L768.1,390.7 L769.1,389.9 L770.0,389.2 L771.0,388.5 L771.9,387.8 L772.9,387.1 L773.8,386.4 L774.7,385.7 L775.7,385.0 L776.6,384.3 L777.6,383.6 L778.5,382.9 L779.5,382.2 L780.4,381.5 L781.4,380.8 L782.3,380.1 L783.2,379.4 L784.2,378.7 L785.1,378.0 L786.1,377.4 L787.0,376.7 L788.0,376.0 L788.9,375.3 L789.9,374.6 L790.8,373.9 L791.7,373.2 L792.7,372.5 L793.6,371.8 L794.6,371.1 L795.5,370.4 L796.5,369.7 L797.4,369.0 L798.4,368.3 L799.3,367.6 L800.2,366.9 L801.2,366.2 L802.1,365.5 L803.1,364.8 L804.0,364.1 L805.0,363.4 L805.9,362.7 L806.8,362.0 L807.8,361.3 L808.7,360.6 L809.7,359.9 L810.6,359.2 L811.6,358.5 L812.5,357.8 L813.5,357.1 L814.4,356.4 L815.3,355.7 L816.3,355.0 L817.2,354.3 L818.2,353.5 L819.1,352.8 L820.1,352.1 L821.0,351.4 L822.0,350.7 L822.9,350.0 L823.8,349.3 L824.8,348.6 L825.7,347.9 L826.7,347.1 L827.6,346.4 L828.6,345.7 L829.5,345.0 L830.5,344.3 L831.4,343.5 L832.3,342.8 L833.3,342.1 L834.2,341.4 L835.2,340.6 L836.1,339.9 L837.1,339.2 L838.0,338.5 L838.9,337.7 L839.9,337.0 L840.8,336.2 L841.8,335.5 L842.7,334.8 L843.7,334.0 L844.6,333.3 L845.6,332.5 L846.5,331.8 L847.4,331.0 L848.4,330.3 L849.3,329.5 L850.3,328.8 L851.2,328.0 L852.2,327.3 L853.1,326.5 L854.1,325.7 L855.0,325.0 L855.9,324.2 L856.9,323.4 L857.8,322.7 L858.8,321.9 L859.7,321.1 L860.7,320.3 L861.6,319.5 L862.6,318.7 L863.5,318.0 L864.4,317.2 L865.4,316.4 L866.3,315.6 L867.3,314.8 L868.2,314.0 L869.2,313.1 L870.1,312.3 L871.0,311.5 L872.0,310.7 L872.9,309.9 L873.9,309.0 L874.8,308.2 L875.8,307.4 L876.7,306.5 L877.7,305.7 L878.6,304.9 L879.5,304.0 L880.5,303.1 L881.4,302.3 L882.4,301.4 L883.3,300.6 L884.3,299.7 L885.2,298.8 L886.2,297.9 L887.1,297.0 L888.0,296.1 L889.0,295.2 L889.9,294.3 L890.9,293.4 L891.8,292.5 L892.8,291.6 L893.7,290.7 L894.7,289.7 L895.6,288.8 L896.5,287.9 L897.5,286.9 L898.4,285.9 L899.4,285.0 L900.3,284.0 L901.3,283.0 L902.2,282.1 L903.1,281.1 L904.1,280.1 L905.0,279.1 L906.0,278.0 L906.9,277.0 L907.9,276.0 L908.8,275.0 L909.8,273.9 L910.7,272.9 L911.6,271.8 L912.6,270.7 L913.5,269.6 L914.5,268.6 L915.4,267.5 L916.4,266.4 L917.3,265.2 L918.3,264.1 L919.2,263.0 L920.1,261.8 L921.1,260.7 L922.0,259.5 L923.0,258.3 L923.9,257.1 L924.9,255.9 L925.8,254.7 L926.8,253.4 L927.7,252.2 L928.6,250.9 L929.6,249.7 L930.5,248.4 L931.5,247.1 L932.4,245.8 L933.4,244.4 L934.3,243.1 L935.2,241.7 L936.2,240.4 L937.1,239.0 L938.1,237.6 L939.0,236.1 L940.0,234.7 L940.9,233.2 L941.9,231.7 L942.8,230.2 L943.7,228.7 L944.7,227.2 L945.6,225.6 L946.6,224.0 L947.5,222.4 L948.5,220.8 L949.4,219.1 L950.4,217.5 L951.3,215.8 L952.2,214.0 L953.2,212.3 L954.1,210.5 L955.1,208.7 L956.0,206.8 L957.0,205.0 L957.9,203.1 L958.9,201.1 L959.8,199.2 L960.7,197.2 L961.7,195.2 L962.6,193.1 L963.6,191.0 L964.5,188.8 L965.5,186.7 L966.4,184.4 L967.3,182.2 L968.3,179.9 L969.2,177.5 L970.2,175.1 L971.1,172.7 L972.1,170.2 L973.0,167.6 L974.0,165.0 L974.9,162.4 L975.8,159.6 L976.8,156.9 L977.7,154.0 L978.7,151.1 L979.6,148.1 L980.6,145.1 L981.5,142.0 L982.5,138.8 L983.4,135.5 L984.3,132.2 L985.3,128.7 L986.2,125.2 L987.2,121.6 L988.1,117.8 L989.1,114.0 L990.0,110.1 L991.0,106.0 L991.9,101.9 L992.8,97.6 L993.8,93.2 L994.7,88.6 L995.7,83.9 L996.6,79.1 L997.6,74.1 L998.5,68.9 L999.4,63.5 L1000.4,58.0 L1001.3,52.3 L1002.3,46.4 L1003.2,40.2 L1004.2,33.8 L1005.1,27.2 L1006.1,20.3 L1007.0,13.1" stroke="#808080" stroke-width="4.4" stroke-dasharray="25.6 10.9 2.4 10.8 2.4 10.8 2.4 11.2" stroke-dashoffset="4"/>
<path d="M630.3,509.4 L631.2,509.2 L632.2,509.0 L633.1,508.8 L634.1,508.6 L635.0,508.4 L636.0,508.2 L636.9,508.0 L637.9,507.7 L638.8,507.5 L639.7,507.3 L640.7,507.1 L641.6,506.9 L642.6,506.7 L643.5,506.5 L644.5,506.2 L645.4,506.0 L646.3,505.8 L647.3,505.6 L648.2,505.4 L649.2,505.1 L650.1,504.9 L651.1,504.7 L652.0,504.5 L653.0,504.2 L653.9,504.0 L654.8,503.8 L655.8,503.5 L656.7,503.3 L657.7,503.1 L658.6,502.9 L659.6,502.6 L660.5,502.4 L661.5,502.1 L662.4,501.9 L663.3,501.7 L664.3,501.4 L665.2,501.2 L666.2,500.9 L667.1,500.7 L668.1,500.5 L669.0,500.2 L670.0,500.0 L670.9,499.7 L671.8,499.5 L672.8,499.2 L673.7,499.0 L674.7,498.7 L675.6,498.4 L676.6,498.2 L677.5,497.9 L678.4,497.7 L679.4,497.4 L680.3,497.2 L681.3,496.9 L682.2,496.6 L683.2,496.4 L684.1,496.1 L685.1,495.8 L686.0,495.6 L686.9,495.3 L687.9,495.0 L688.8,494.7 L689.8,494.5 L690.7,494.2 L691.7,493.9 L692.6,493.6 L693.6,493.4 L694.5,493.1 L695.4,492.8 L696.4,492.5 L697.3,492.2 L698.3,491.9 L699.2,491.6 L700.2,491.4 L701.1,491.1 L702.1,490.8 L703.0,490.5 L703.9,490.2 L704.9,489.9 L705.8,489.6 L706.8,489.3 L707.7,489.0 L708.7,488.7 L709.6,488.4 L710.5,488.1 L711.5,487.7 L712.4,487.4 L713.4,487.1 L714.3,486.8 L715.3,486.5 L716.2,486.2 L717.2,485.9 L718.1,485.5 L719.0,485.2 L720.0,484.9 L720.9,484.6 L721.9,484.2 L722.8,483.9 L723.8,483.6 L724.7,483.2 L725.7,482.9 L726.6,482.6 L727.5,482.2 L728.5,481.9 L729.4,481.5 L730.4,481.2 L731.3,480.9 L732.3,480.5 L733.2,480.2 L734.2,479.8 L735.1,479.4 L736.0,479.1 L737.0,478.7 L737.9,478.4 L738.9,478.0 L739.8,477.6 L740.8,477.3 L741.7,476.9 L742.6,476.5 L743.6,476.2 L744.5,475.8 L745.5,475.4 L746.4,475.0 L747.4,474.7 L748.3,474.3 L749.3,473.9 L750.2,473.5 L751.1,473.1 L752.1,472.7 L753.0,472.3 L754.0,471.9 L754.9,471.5 L755.9,471.1 L756.8,470.7 L757.8,470.3 L758.7,469.9 L759.6,469.5 L760.6,469.1 L761.5,468.7 L762.5,468.2 L763.4,467.8 L764.4,467.4 L765.3,467.0 L766.3,466.5 L767.2,466.1 L768.1,465.7 L769.1,465.2 L770.0,464.8 L771.0,464.4 L771.9,463.9 L772.9,463.5 L773.8,463.0 L774.7,462.6 L775.7,462.1 L776.6,461.7 L777.6,461.2 L778.5,460.7 L779.5,460.3 L780.4,459.8 L781.4,459.3 L782.3,458.8 L783.2,458.4 L784.2,457.9 L785.1,457.4 L786.1,456.9 L787.0,456.4 L788.0,455.9 L788.9,455.4 L789.9,454.9 L790.8,454.4 L791.7,453.9 L792.7,453.4 L793.6,452.9 L794.6,452.4 L795.5,451.8 L796.5,451.3 L797.4,450.8 L798.4,450.3 L799.3,449.7 L800.2,449.2 L801.2,448.6 L802.1,448.1 L803.1,447.5 L804.0,447.0 L805.0,446.4 L805.9,445.9 L806.8,445.3 L807.8,444.7 L808.7,444.2 L809.7,443.6 L810.6,443.0 L811.6,442.4 L812.5,441.8 L813.5,441.2 L814.4,440.6 L815.3,440.0 L816.3,439.4 L817.2,438.8 L818.2,438.2 L819.1,437.6 L820.1,437.0 L821.0,436.3 L822.0,435.7 L822.9,435.1 L823.8,434.4 L824.8,433.8 L825.7,433.1 L826.7,432.5 L827.6,431.8 L828.6,431.1 L829.5,430.5 L830.5,429.8 L831.4,429.1 L832.3,428.4 L833.3,427.7 L834.2,427.0 L835.2,426.3 L836.1,425.6 L837.1,424.9 L838.0,424.2 L838.9,423.5 L839.9,422.7 L840.8,422.0 L841.8,421.3 L842.7,420.5 L843.7,419.8 L844.6,419.0 L845.6,418.3 L846.5,417.5 L847.4,416.7 L848.4,415.9 L849.3,415.1 L850.3,414.3 L851.2,413.5 L852.2,412.7 L853.1,411.9 L854.1,411.1 L855.0,410.3 L855.9,409.4 L856.9,408.6 L857.8,407.7 L858.8,406.9 L859.7,406.0 L860.7,405.1 L861.6,404.3 L862.6,403.4 L863.5,402.5 L864.4,401.6 L865.4,400.7 L866.3,399.8 L867.3,398.8 L868.2,397.9 L869.2,397.0 L870.1,396.0 L871.0,395.0 L872.0,394.1 L872.9,393.1 L873.9,392.1 L874.8,391.1 L875.8,390.1 L876.7,389.1 L877.7,388.1 L878.6,387.1 L879.5,386.0 L880.5,385.0 L881.4,383.9 L882.4,382.9 L883.3,381.8 L884.3,380.7 L885.2,379.6 L886.2,378.5 L887.1,377.4 L888.0,376.2 L889.0,375.1 L889.9,373.9 L890.9,372.8 L891.8,371.6 L892.8,370.4 L893.7,369.2 L894.7,368.0 L895.6,366.8 L896.5,365.5 L897.5,364.3 L898.4,363.0 L899.4,361.8 L900.3,360.5 L901.3,359.2 L902.2,357.9 L903.1,356.5 L904.1,355.2 L905.0,353.8 L906.0,352.5 L906.9,351.1 L907.9,349.7 L908.8,348.3 L909.8,346.8 L910.7,345.4 L911.6,343.9 L912.6,342.5 L913.5,341.0 L914.5,339.5 L915.4,337.9 L916.4,336.4 L917.3,334.8 L918.3,333.3 L919.2,331.7 L920.1,330.1 L921.1,328.4 L922.0,326.8 L923.0,325.1 L923.9,323.4 L924.9,321.7 L925.8,320.0 L926.8,318.2 L927.7,316.4 L928.6,314.6 L929.6,312.8 L930.5,311.0 L931.5,309.1 L932.4,307.2 L933.4,305.3 L934.3,303.4 L935.2,301.5 L936.2,299.5 L937.1,297.5 L938.1,295.4 L939.0,293.4 L940.0,291.3 L940.9,289.2 L941.9,287.0 L942.8,284.9 L943.7,282.7 L944.7,280.4 L945.6,278.2 L946.6,275.9 L947.5,273.6 L948.5,271.2 L949.4,268.8 L950.4,266.4 L951.3,264.0 L952.2,261.5 L953.2,258.9 L954.1,256.4 L955.1,253.8 L956.0,251.1 L957.0,248.5 L957.9,245.8 L958.9,243.0 L959.8,240.2 L960.7,237.4 L961.7,234.5 L962.6,231.5 L963.6,228.6 L964.5,225.5 L965.5,222.5 L966.4,219.4 L967.3,216.2 L968.3,213.0 L969.2,209.7 L970.2,206.4 L971.1,203.0 L972.1,199.5 L973.0,196.0 L974.0,192.5 L974.9,188.9 L975.8,185.2 L976.8,181.4 L977.7,177.6 L978.7,173.7 L979.6,169.8 L980.6,165.7 L981.5,161.7 L982.5,157.5 L983.4,153.2 L984.3,148.9 L985.3,144.5 L986.2,140.0 L987.2,135.4 L988.1,130.7 L989.1,125.9 L990.0,121.1 L991.0,116.1 L991.9,111.0 L992.8,105.9 L993.8,100.6 L994.7,95.2 L995.7,89.7 L996.6,84.1 L997.6,78.3 L998.5,72.4 L999.4,66.4 L1000.4,60.3 L1001.3,54.0 L1002.3,47.6 L1003.2,41.0 L1004.2,34.3 L1005.1,27.4 L1006.1,20.3 L1007.0,13.1" stroke="#444444" stroke-width="6.0"/>
</g>
<text transform="translate(621.5,489.0) scale(1,1.13)" font-size="23" text-anchor="end" font-weight="bold" fill="#000">-4</text>
<text transform="translate(621.5,430.6) scale(1,1.13)" font-size="23" text-anchor="end" font-weight="bold" fill="#000">-2</text>
<text transform="translate(621.5,372.2) scale(1,1.13)" font-size="23" text-anchor="end" font-weight="bold" fill="#000">0</text>
<text transform="translate(621.5,313.8) scale(1,1.13)" font-size="23" text-anchor="end" font-weight="bold" fill="#000">2</text>
<text transform="translate(621.5,255.5) scale(1,1.13)" font-size="23" text-anchor="end" font-weight="bold" fill="#000">4</text>
<text transform="translate(621.5,197.1) scale(1,1.13)" font-size="23" text-anchor="end" font-weight="bold" fill="#000">6</text>
<text transform="translate(621.5,138.7) scale(1,1.13)" font-size="23" text-anchor="end" font-weight="bold" fill="#000">8</text>
<text transform="translate(621.5,80.3) scale(1,1.13)" font-size="23" text-anchor="end" font-weight="bold" fill="#000">10</text>
<text transform="translate(621.5,21.9) scale(1,1.13)" font-size="23" text-anchor="end" font-weight="bold" fill="#000">12</text>
<text transform="translate(630.3,543.2) scale(1,1.13)" font-size="23" text-anchor="middle" font-weight="bold" fill="#000">0.0</text>
<text transform="translate(705.6,543.2) scale(1,1.13)" font-size="23" text-anchor="middle" font-weight="bold" fill="#000">0.2</text>
<text transform="translate(781.0,543.2) scale(1,1.13)" font-size="23" text-anchor="middle" font-weight="bold" fill="#000">0.4</text>
<text transform="translate(856.3,543.2) scale(1,1.13)" font-size="23" text-anchor="middle" font-weight="bold" fill="#000">0.6</text>
<text transform="translate(931.7,543.2) scale(1,1.13)" font-size="23" text-anchor="middle" font-weight="bold" fill="#000">0.8</text>
<text transform="translate(1007.0,543.2) scale(1,1.13)" font-size="23" text-anchor="middle" font-weight="bold" fill="#000">1.0</text>
<text transform="translate(962,483.6) scale(1.0,1.08)" font-size="26" text-anchor="middle" font-weight="bold" fill="#000">(b)</text>
<text transform="translate(579.2,249.6) rotate(-90) scale(1.12,1)" font-size="29.4" text-anchor="middle" font-weight="bold" fill="#000">log <tspan font-style="italic">η</tspan> [Pa·s]</text>
<text transform="translate(790.3,578.9)" font-size="32.5" font-weight="bold" font-style="italic" fill="#000">T</text>
<text transform="translate(808.3,588.6) scale(1,1.2)" font-size="19" font-weight="bold" fill="#000">g</text>
<text transform="translate(819,578.9)" font-size="32.5" font-weight="bold" fill="#000">/</text>
<text transform="translate(828.2,578.9) scale(1.03,1)" font-size="32.5" font-weight="bold" font-style="italic" fill="#000">T</text>
<text transform="translate(679.5,56.7) scale(1,1.08)" font-size="23.5" fill="#000">Fragility index : <tspan font-style="italic">m</tspan> = 100</text>
<g fill="none" stroke-linecap="round">
<path d="M659.1,105.8H700.2" stroke="#858585" stroke-width="4.2" stroke-dasharray="0.1 6.75"/>
<path d="M660,133.9H702.1" stroke="#000" stroke-width="6"/>
<path d="M660,161.9H702.3" stroke="#808080" stroke-width="4.4"/>
<path d="M659.9,190.7H697.2" stroke="#808080" stroke-width="4.4" stroke-dasharray="4.3 7.2 0.1 6.6 0.1 7.4"/>
<path d="M659.9,218.8H699.5" stroke="#808080" stroke-width="4.4" stroke-dasharray="20 7.6 1.9 7.6 1.9 7.6"/>
</g>
<text transform="translate(712.6,113.4) scale(1,1.08)" font-size="23.6" fill="#000">(<tspan font-style="italic">B</tspan>, <tspan font-style="italic">C</tspan> ) = (0.67, 1.9)</text>
<text transform="translate(712.6,141.5) scale(1,1.08)" font-size="23.6" fill="#000">(<tspan font-style="italic">B</tspan>*,<tspan font-style="italic">C</tspan>*) = (0.69, 6.4)</text>
<text transform="translate(712.6,169.5) scale(1,1.08)" font-size="23.6" fill="#000">(<tspan font-style="italic">B</tspan>, <tspan font-style="italic">C</tspan> ) = (0.73, 15.5)</text>
<text transform="translate(712.6,198.3) scale(1,1.08)" font-size="23.6" fill="#000">(<tspan font-style="italic">B</tspan>, <tspan font-style="italic">C</tspan> ) = (0.78, 26.9)</text>
<text transform="translate(712.6,226.4) scale(1,1.08)" font-size="23.6" fill="#000">(<tspan font-style="italic">B</tspan>, <tspan font-style="italic">C</tspan> ) = (0.80, 31.4)</text>
</svg>
</body></html>
